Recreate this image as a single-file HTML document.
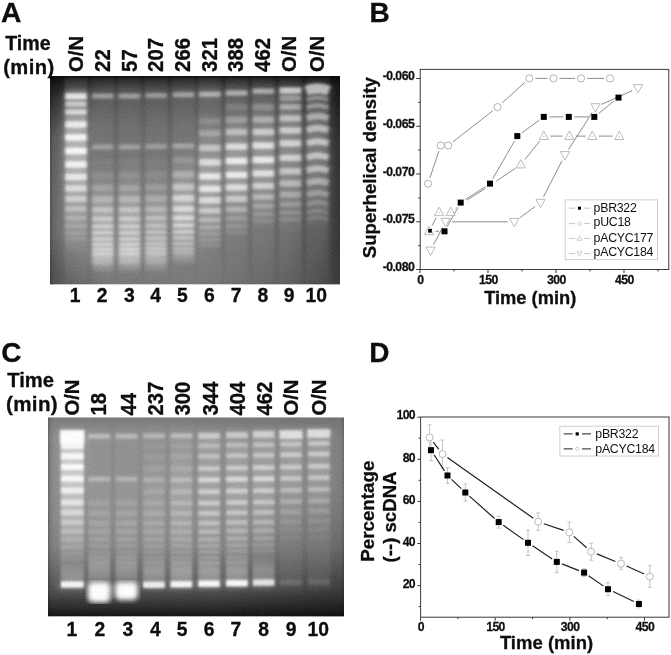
<!DOCTYPE html>
<html><head><meta charset="utf-8"><title>Figure</title>
<style>
html,body{margin:0;padding:0;background:#fff;}
svg{display:block;font-family:"Liberation Sans", Arial, sans-serif;}
</style></head><body>
<svg width="671" height="655" viewBox="0 0 671 655">
<defs>
<filter id="blur" x="-5%" y="-5%" width="110%" height="110%"><feGaussianBlur stdDeviation="1.35 1.25"/></filter>
<filter id="blur3" x="-5%" y="-5%" width="110%" height="110%"><feGaussianBlur stdDeviation="2.6 2.8"/></filter>
<filter id="bloom" x="-5%" y="-5%" width="110%" height="110%"><feGaussianBlur stdDeviation="4 2.5"/></filter>
<filter id="blurC" x="-5%" y="-5%" width="110%" height="110%"><feGaussianBlur stdDeviation="1.3 1.15"/></filter>
<filter id="blur2" x="-5%" y="-5%" width="110%" height="110%"><feGaussianBlur stdDeviation="1.3 1.1"/></filter>
<filter id="grain" x="0" y="0" width="100%" height="100%"><feTurbulence type="fractalNoise" baseFrequency="0.9" numOctaves="2" seed="7" result="n"/><feColorMatrix in="n" type="matrix" values="3 0 0 0 -1  3 0 0 0 -1  3 0 0 0 -1  0 0 0 0 1"/></filter>
<filter id="tblur"><feGaussianBlur stdDeviation="0.35"/></filter>
<linearGradient id="hazeA" x1="0" y1="0" x2="0" y2="1">
<stop offset="0" stop-color="#fff" stop-opacity="0.35"/><stop offset="0.06" stop-color="#fff" stop-opacity="1"/><stop offset="0.72" stop-color="#fff" stop-opacity="1"/><stop offset="1" stop-color="#fff" stop-opacity="0.2"/></linearGradient>
<linearGradient id="hazeC" x1="0" y1="0" x2="0" y2="1">
<stop offset="0" stop-color="#fff" stop-opacity="0"/><stop offset="0.05" stop-color="#fff" stop-opacity="1"/><stop offset="0.88" stop-color="#fff" stop-opacity="1"/><stop offset="1" stop-color="#fff" stop-opacity="0"/></linearGradient>
<linearGradient id="tailfade" x1="0" y1="0" x2="0" y2="1">
<stop offset="0" stop-color="#fff" stop-opacity="0"/><stop offset="0.45" stop-color="#fff" stop-opacity="1"/><stop offset="0.7" stop-color="#fff" stop-opacity="0.8"/><stop offset="1" stop-color="#fff" stop-opacity="0"/></linearGradient>
<linearGradient id="gA_v" x1="0" y1="0" x2="0" y2="1"><stop offset="0.000" stop-color="#080808"/><stop offset="0.010" stop-color="#121212"/><stop offset="0.019" stop-color="#1e1e1e"/><stop offset="0.043" stop-color="#2e2e2e"/><stop offset="0.067" stop-color="#3a3a3a"/><stop offset="0.115" stop-color="#4a4a4a"/><stop offset="0.187" stop-color="#575757"/><stop offset="0.259" stop-color="#606060"/><stop offset="0.403" stop-color="#676767"/><stop offset="0.503" stop-color="#6c6c6c"/><stop offset="0.666" stop-color="#707070"/><stop offset="0.810" stop-color="#737373"/><stop offset="1.000" stop-color="#767676"/></linearGradient>
<linearGradient id="gA_h" x1="0" y1="0" x2="1" y2="0">
<stop offset="0" stop-color="#000" stop-opacity="0.3"/><stop offset="0.012" stop-color="#000" stop-opacity="0.1"/><stop offset="0.035" stop-color="#000" stop-opacity="0.02"/><stop offset="0.06" stop-color="#000" stop-opacity="0"/><stop offset="0.5" stop-color="#000" stop-opacity="0"/><stop offset="0.8" stop-color="#000" stop-opacity="0.2"/><stop offset="0.95" stop-color="#000" stop-opacity="0.42"/><stop offset="1" stop-color="#000" stop-opacity="0.55"/></linearGradient>
<linearGradient id="gC_v" x1="0" y1="0" x2="0" y2="1"><stop offset="0.000" stop-color="#787878"/><stop offset="0.039" stop-color="#828282"/><stop offset="0.114" stop-color="#8a8a8a"/><stop offset="0.340" stop-color="#8a8a8a"/><stop offset="0.515" stop-color="#868686"/><stop offset="0.641" stop-color="#808080"/><stop offset="0.716" stop-color="#717171"/><stop offset="0.791" stop-color="#616161"/><stop offset="0.867" stop-color="#4f4f4f"/><stop offset="0.917" stop-color="#393939"/><stop offset="0.967" stop-color="#212121"/><stop offset="1.000" stop-color="#0e0e0e"/></linearGradient>
<linearGradient id="gC_h" x1="0" y1="0" x2="1" y2="0">
<stop offset="0" stop-color="#000" stop-opacity="0.3"/><stop offset="0.008" stop-color="#000" stop-opacity="0.08"/><stop offset="0.02" stop-color="#000" stop-opacity="0"/><stop offset="0.4" stop-color="#000" stop-opacity="0"/><stop offset="0.97" stop-color="#000" stop-opacity="0.08"/><stop offset="0.99" stop-color="#000" stop-opacity="0.1"/><stop offset="1" stop-color="#000" stop-opacity="0.25"/></linearGradient>
<radialGradient id="cornerC" gradientUnits="userSpaceOnUse" cx="350" cy="625" r="140"><stop offset="0" stop-color="#000" stop-opacity="0.34"/><stop offset="0.5" stop-color="#000" stop-opacity="0.13"/><stop offset="1" stop-color="#000" stop-opacity="0"/></radialGradient>
<radialGradient id="cornerA" gradientUnits="userSpaceOnUse" cx="46" cy="76" r="62"><stop offset="0" stop-color="#000" stop-opacity="0.65"/><stop offset="0.5" stop-color="#000" stop-opacity="0.3"/><stop offset="1" stop-color="#000" stop-opacity="0"/></radialGradient>
<radialGradient id="cornerA3" gradientUnits="userSpaceOnUse" cx="44" cy="292" r="62"><stop offset="0" stop-color="#000" stop-opacity="0.34"/><stop offset="0.5" stop-color="#000" stop-opacity="0.2"/><stop offset="1" stop-color="#000" stop-opacity="0"/></radialGradient>
<radialGradient id="cornerA2" gradientUnits="userSpaceOnUse" cx="340" cy="76" r="70"><stop offset="0" stop-color="#000" stop-opacity="0.35"/><stop offset="1" stop-color="#000" stop-opacity="0"/></radialGradient>
<clipPath id="clipA"><rect x="50" y="76.0" width="290" height="208.6"/></clipPath>
<clipPath id="clipC"><rect x="47.9" y="417.3" width="296.1" height="199.3"/></clipPath>
</defs>
<rect width="671" height="655" fill="#fff"/>

<g clip-path="url(#clipA)">
<rect x="50" y="76.0" width="290" height="208.6" fill="url(#gA_v)"/>
<rect x="50" y="76.0" width="290" height="208.6" fill="url(#gA_h)"/>
<rect x="50" y="76.0" width="290" height="208.6" fill="url(#cornerA)"/>
<rect x="50" y="76.0" width="290" height="208.6" fill="url(#cornerA2)"/>
<rect x="50" y="76.0" width="290" height="208.6" fill="url(#cornerA3)"/>
<g id="bA" filter="url(#blur)"><rect x="64.5" y="77" width="22.9" height="206" fill="url(#hazeA)" opacity="0.14"/><rect x="65.2" y="90.0" width="21.5" height="4.3" fill="#fff" opacity="0.11"/><rect x="65.2" y="94.0" width="21.5" height="4.3" fill="#fff" opacity="0.13"/><rect x="65.2" y="98.0" width="21.5" height="4.3" fill="#fff" opacity="0.14"/><rect x="65.2" y="102.0" width="21.5" height="4.3" fill="#fff" opacity="0.16"/><rect x="65.2" y="106.0" width="21.5" height="4.3" fill="#fff" opacity="0.17"/><rect x="65.2" y="110.0" width="21.5" height="4.3" fill="#fff" opacity="0.19"/><rect x="65.2" y="114.0" width="21.5" height="4.3" fill="#fff" opacity="0.20"/><rect x="65.2" y="118.0" width="21.5" height="4.3" fill="#fff" opacity="0.22"/><rect x="65.2" y="122.0" width="21.5" height="4.3" fill="#fff" opacity="0.23"/><rect x="65.2" y="126.0" width="21.5" height="4.3" fill="#fff" opacity="0.24"/><rect x="65.2" y="130.0" width="21.5" height="4.3" fill="#fff" opacity="0.25"/><rect x="65.2" y="134.0" width="21.5" height="4.3" fill="#fff" opacity="0.26"/><rect x="65.2" y="138.0" width="21.5" height="4.3" fill="#fff" opacity="0.27"/><rect x="65.2" y="142.0" width="21.5" height="4.3" fill="#fff" opacity="0.27"/><rect x="65.2" y="146.0" width="21.5" height="4.3" fill="#fff" opacity="0.27"/><rect x="65.2" y="150.0" width="21.5" height="4.3" fill="#fff" opacity="0.27"/><rect x="65.2" y="154.0" width="21.5" height="4.3" fill="#fff" opacity="0.27"/><rect x="65.2" y="158.0" width="21.5" height="4.3" fill="#fff" opacity="0.26"/><rect x="65.2" y="162.0" width="21.5" height="4.3" fill="#fff" opacity="0.25"/><rect x="65.2" y="166.0" width="21.5" height="4.3" fill="#fff" opacity="0.24"/><rect x="65.2" y="170.0" width="21.5" height="4.3" fill="#fff" opacity="0.23"/><rect x="65.2" y="174.0" width="21.5" height="4.3" fill="#fff" opacity="0.22"/><rect x="65.2" y="178.0" width="21.5" height="4.3" fill="#fff" opacity="0.20"/><rect x="65.2" y="182.0" width="21.5" height="4.3" fill="#fff" opacity="0.19"/><rect x="65.2" y="186.0" width="21.5" height="4.3" fill="#fff" opacity="0.17"/><rect x="65.2" y="190.0" width="21.5" height="4.3" fill="#fff" opacity="0.16"/><rect x="65.2" y="194.0" width="21.5" height="4.3" fill="#fff" opacity="0.14"/><rect x="65.2" y="198.0" width="21.5" height="4.3" fill="#fff" opacity="0.13"/><rect x="65.2" y="202.0" width="21.5" height="4.3" fill="#fff" opacity="0.11"/><rect x="65.2" y="206.0" width="21.5" height="4.3" fill="#fff" opacity="0.10"/><rect x="65.2" y="210.0" width="21.5" height="4.3" fill="#fff" opacity="0.08"/><rect x="65.2" y="214.0" width="21.5" height="4.3" fill="#fff" opacity="0.07"/><rect x="65.2" y="218.0" width="21.5" height="4.3" fill="#fff" opacity="0.06"/><rect x="65.2" y="222.0" width="21.5" height="4.3" fill="#fff" opacity="0.05"/><rect x="65.2" y="226.0" width="21.5" height="4.3" fill="#fff" opacity="0.04"/><rect x="65.2" y="230.0" width="21.5" height="4.3" fill="#fff" opacity="0.04"/><rect x="65.2" y="234.0" width="21.5" height="4.3" fill="#fff" opacity="0.03"/><rect x="65.2" y="238.0" width="21.5" height="4.3" fill="#fff" opacity="0.02"/><rect x="65.2" y="242.0" width="21.5" height="4.3" fill="#fff" opacity="0.02"/><rect x="65.2" y="246.0" width="21.5" height="4.3" fill="#fff" opacity="0.02"/><rect x="65.2" y="101.6" width="21.5" height="4.8" fill="#fff" opacity="0.52"/><rect x="65.2" y="109.6" width="21.5" height="4.8" fill="#fff" opacity="0.62"/><rect x="65.2" y="121.3" width="21.5" height="6.3" fill="#fff" opacity="0.77"/><rect x="65.2" y="134.3" width="21.5" height="6.3" fill="#fff" opacity="0.87"/><rect x="65.2" y="147.8" width="21.5" height="6.3" fill="#fff" opacity="0.90"/><rect x="65.2" y="161.3" width="21.5" height="6.3" fill="#fff" opacity="0.83"/><rect x="65.2" y="173.8" width="21.5" height="6.3" fill="#fff" opacity="0.71"/><rect x="65.2" y="185.3" width="21.5" height="6.3" fill="#fff" opacity="0.57"/><rect x="65.2" y="196.0" width="21.5" height="6.0" fill="#fff" opacity="0.43"/><rect x="65.2" y="206.3" width="21.5" height="5.4" fill="#fff" opacity="0.31"/><rect x="65.2" y="215.6" width="21.5" height="4.8" fill="#fff" opacity="0.22"/><rect x="65.2" y="223.9" width="21.5" height="4.2" fill="#fff" opacity="0.16"/><rect x="65.2" y="231.2" width="21.5" height="3.6" fill="#fff" opacity="0.12"/><rect x="65.2" y="237.2" width="21.5" height="3.6" fill="#fff" opacity="0.09"/><rect x="65.2" y="93.3" width="21.5" height="6.0" fill="#fff" opacity="0.75"/><rect x="91.2" y="77" width="22.9" height="206" fill="url(#hazeA)" opacity="0.07"/><rect x="92.0" y="160.0" width="21.5" height="4.3" fill="#fff" opacity="0.02"/><rect x="92.0" y="164.0" width="21.5" height="4.3" fill="#fff" opacity="0.02"/><rect x="92.0" y="168.0" width="21.5" height="4.3" fill="#fff" opacity="0.03"/><rect x="92.0" y="172.0" width="21.5" height="4.3" fill="#fff" opacity="0.04"/><rect x="92.0" y="176.0" width="21.5" height="4.3" fill="#fff" opacity="0.05"/><rect x="92.0" y="180.0" width="21.5" height="4.3" fill="#fff" opacity="0.06"/><rect x="92.0" y="184.0" width="21.5" height="4.3" fill="#fff" opacity="0.08"/><rect x="92.0" y="188.0" width="21.5" height="4.3" fill="#fff" opacity="0.09"/><rect x="92.0" y="192.0" width="21.5" height="4.3" fill="#fff" opacity="0.11"/><rect x="92.0" y="196.0" width="21.5" height="4.3" fill="#fff" opacity="0.13"/><rect x="92.0" y="200.0" width="21.5" height="4.3" fill="#fff" opacity="0.15"/><rect x="92.0" y="204.0" width="21.5" height="4.3" fill="#fff" opacity="0.17"/><rect x="92.0" y="208.0" width="21.5" height="4.3" fill="#fff" opacity="0.18"/><rect x="92.0" y="212.0" width="21.5" height="4.3" fill="#fff" opacity="0.20"/><rect x="92.0" y="216.0" width="21.5" height="4.3" fill="#fff" opacity="0.21"/><rect x="92.0" y="220.0" width="21.5" height="4.3" fill="#fff" opacity="0.22"/><rect x="92.0" y="224.0" width="21.5" height="4.3" fill="#fff" opacity="0.23"/><rect x="92.0" y="228.0" width="21.5" height="4.3" fill="#fff" opacity="0.23"/><rect x="92.0" y="232.0" width="21.5" height="4.3" fill="#fff" opacity="0.23"/><rect x="92.0" y="236.0" width="21.5" height="4.3" fill="#fff" opacity="0.22"/><rect x="92.0" y="240.0" width="21.5" height="4.3" fill="#fff" opacity="0.21"/><rect x="92.0" y="244.0" width="21.5" height="4.3" fill="#fff" opacity="0.20"/><rect x="92.0" y="248.0" width="21.5" height="4.3" fill="#fff" opacity="0.18"/><rect x="92.0" y="252.0" width="21.5" height="4.3" fill="#fff" opacity="0.17"/><rect x="92.0" y="256.0" width="21.5" height="4.3" fill="#fff" opacity="0.15"/><rect x="92.0" y="260.0" width="21.5" height="4.3" fill="#fff" opacity="0.13"/><rect x="92.0" y="158.2" width="21.5" height="6.3" fill="#fff" opacity="0.03"/><rect x="92.0" y="172.2" width="21.5" height="6.3" fill="#fff" opacity="0.08"/><rect x="92.0" y="184.7" width="21.5" height="6.3" fill="#fff" opacity="0.16"/><rect x="92.0" y="196.2" width="21.5" height="6.3" fill="#fff" opacity="0.25"/><rect x="92.0" y="207.1" width="21.5" height="5.4" fill="#fff" opacity="0.33"/><rect x="92.0" y="216.6" width="21.5" height="4.5" fill="#fff" opacity="0.39"/><rect x="92.0" y="224.4" width="21.5" height="3.9" fill="#fff" opacity="0.42"/><rect x="92.0" y="231.0" width="21.5" height="3.6" fill="#fff" opacity="0.42"/><rect x="92.0" y="237.2" width="21.5" height="3.3" fill="#fff" opacity="0.40"/><rect x="92.0" y="242.8" width="21.5" height="3.0" fill="#fff" opacity="0.37"/><rect x="92.0" y="248.0" width="21.5" height="2.7" fill="#fff" opacity="0.34"/><rect x="92.0" y="252.5" width="21.5" height="2.7" fill="#fff" opacity="0.31"/><rect x="92.0" y="93.5" width="21.5" height="5.0" fill="#fff" opacity="0.36"/><rect x="92.0" y="144.5" width="21.5" height="5.0" fill="#fff" opacity="0.26"/><rect x="92.0" y="236" width="21.5" height="38" fill="url(#tailfade)" opacity="0.30"/><rect x="118.0" y="77" width="22.9" height="206" fill="url(#hazeA)" opacity="0.07"/><rect x="118.7" y="160.0" width="21.5" height="4.3" fill="#fff" opacity="0.02"/><rect x="118.7" y="164.0" width="21.5" height="4.3" fill="#fff" opacity="0.03"/><rect x="118.7" y="168.0" width="21.5" height="4.3" fill="#fff" opacity="0.04"/><rect x="118.7" y="172.0" width="21.5" height="4.3" fill="#fff" opacity="0.05"/><rect x="118.7" y="176.0" width="21.5" height="4.3" fill="#fff" opacity="0.06"/><rect x="118.7" y="180.0" width="21.5" height="4.3" fill="#fff" opacity="0.07"/><rect x="118.7" y="184.0" width="21.5" height="4.3" fill="#fff" opacity="0.08"/><rect x="118.7" y="188.0" width="21.5" height="4.3" fill="#fff" opacity="0.10"/><rect x="118.7" y="192.0" width="21.5" height="4.3" fill="#fff" opacity="0.12"/><rect x="118.7" y="196.0" width="21.5" height="4.3" fill="#fff" opacity="0.14"/><rect x="118.7" y="200.0" width="21.5" height="4.3" fill="#fff" opacity="0.15"/><rect x="118.7" y="204.0" width="21.5" height="4.3" fill="#fff" opacity="0.17"/><rect x="118.7" y="208.0" width="21.5" height="4.3" fill="#fff" opacity="0.19"/><rect x="118.7" y="212.0" width="21.5" height="4.3" fill="#fff" opacity="0.20"/><rect x="118.7" y="216.0" width="21.5" height="4.3" fill="#fff" opacity="0.21"/><rect x="118.7" y="220.0" width="21.5" height="4.3" fill="#fff" opacity="0.22"/><rect x="118.7" y="224.0" width="21.5" height="4.3" fill="#fff" opacity="0.23"/><rect x="118.7" y="228.0" width="21.5" height="4.3" fill="#fff" opacity="0.23"/><rect x="118.7" y="232.0" width="21.5" height="4.3" fill="#fff" opacity="0.23"/><rect x="118.7" y="236.0" width="21.5" height="4.3" fill="#fff" opacity="0.22"/><rect x="118.7" y="240.0" width="21.5" height="4.3" fill="#fff" opacity="0.21"/><rect x="118.7" y="244.0" width="21.5" height="4.3" fill="#fff" opacity="0.20"/><rect x="118.7" y="248.0" width="21.5" height="4.3" fill="#fff" opacity="0.19"/><rect x="118.7" y="252.0" width="21.5" height="4.3" fill="#fff" opacity="0.17"/><rect x="118.7" y="256.0" width="21.5" height="4.3" fill="#fff" opacity="0.15"/><rect x="118.7" y="260.0" width="21.5" height="4.3" fill="#fff" opacity="0.14"/><rect x="118.7" y="158.2" width="21.5" height="6.3" fill="#fff" opacity="0.04"/><rect x="118.7" y="172.2" width="21.5" height="6.3" fill="#fff" opacity="0.09"/><rect x="118.7" y="184.7" width="21.5" height="6.3" fill="#fff" opacity="0.17"/><rect x="118.7" y="196.2" width="21.5" height="6.3" fill="#fff" opacity="0.26"/><rect x="118.7" y="207.1" width="21.5" height="5.4" fill="#fff" opacity="0.34"/><rect x="118.7" y="216.6" width="21.5" height="4.5" fill="#fff" opacity="0.39"/><rect x="118.7" y="224.4" width="21.5" height="3.9" fill="#fff" opacity="0.42"/><rect x="118.7" y="231.0" width="21.5" height="3.6" fill="#fff" opacity="0.42"/><rect x="118.7" y="237.2" width="21.5" height="3.3" fill="#fff" opacity="0.40"/><rect x="118.7" y="242.8" width="21.5" height="3.0" fill="#fff" opacity="0.38"/><rect x="118.7" y="248.0" width="21.5" height="2.7" fill="#fff" opacity="0.35"/><rect x="118.7" y="252.5" width="21.5" height="2.7" fill="#fff" opacity="0.31"/><rect x="118.7" y="93.5" width="21.5" height="5.0" fill="#fff" opacity="0.36"/><rect x="118.7" y="144.5" width="21.5" height="5.0" fill="#fff" opacity="0.26"/><rect x="118.7" y="236" width="21.5" height="38" fill="url(#tailfade)" opacity="0.30"/><rect x="144.7" y="77" width="22.9" height="206" fill="url(#hazeA)" opacity="0.07"/><rect x="145.3" y="160.0" width="21.5" height="4.3" fill="#fff" opacity="0.02"/><rect x="145.3" y="164.0" width="21.5" height="4.3" fill="#fff" opacity="0.02"/><rect x="145.3" y="168.0" width="21.5" height="4.3" fill="#fff" opacity="0.03"/><rect x="145.3" y="172.0" width="21.5" height="4.3" fill="#fff" opacity="0.04"/><rect x="145.3" y="176.0" width="21.5" height="4.3" fill="#fff" opacity="0.04"/><rect x="145.3" y="180.0" width="21.5" height="4.3" fill="#fff" opacity="0.05"/><rect x="145.3" y="184.0" width="21.5" height="4.3" fill="#fff" opacity="0.07"/><rect x="145.3" y="188.0" width="21.5" height="4.3" fill="#fff" opacity="0.08"/><rect x="145.3" y="192.0" width="21.5" height="4.3" fill="#fff" opacity="0.09"/><rect x="145.3" y="196.0" width="21.5" height="4.3" fill="#fff" opacity="0.11"/><rect x="145.3" y="200.0" width="21.5" height="4.3" fill="#fff" opacity="0.12"/><rect x="145.3" y="204.0" width="21.5" height="4.3" fill="#fff" opacity="0.13"/><rect x="145.3" y="208.0" width="21.5" height="4.3" fill="#fff" opacity="0.15"/><rect x="145.3" y="212.0" width="21.5" height="4.3" fill="#fff" opacity="0.16"/><rect x="145.3" y="216.0" width="21.5" height="4.3" fill="#fff" opacity="0.17"/><rect x="145.3" y="220.0" width="21.5" height="4.3" fill="#fff" opacity="0.18"/><rect x="145.3" y="224.0" width="21.5" height="4.3" fill="#fff" opacity="0.18"/><rect x="145.3" y="228.0" width="21.5" height="4.3" fill="#fff" opacity="0.18"/><rect x="145.3" y="232.0" width="21.5" height="4.3" fill="#fff" opacity="0.18"/><rect x="145.3" y="236.0" width="21.5" height="4.3" fill="#fff" opacity="0.18"/><rect x="145.3" y="240.0" width="21.5" height="4.3" fill="#fff" opacity="0.17"/><rect x="145.3" y="244.0" width="21.5" height="4.3" fill="#fff" opacity="0.16"/><rect x="145.3" y="248.0" width="21.5" height="4.3" fill="#fff" opacity="0.15"/><rect x="145.3" y="252.0" width="21.5" height="4.3" fill="#fff" opacity="0.13"/><rect x="145.3" y="256.0" width="21.5" height="4.3" fill="#fff" opacity="0.12"/><rect x="145.3" y="260.0" width="21.5" height="4.3" fill="#fff" opacity="0.11"/><rect x="145.3" y="157.5" width="21.5" height="6.3" fill="#fff" opacity="0.03"/><rect x="145.3" y="171.5" width="21.5" height="6.3" fill="#fff" opacity="0.07"/><rect x="145.3" y="184.0" width="21.5" height="6.3" fill="#fff" opacity="0.13"/><rect x="145.3" y="195.5" width="21.5" height="6.3" fill="#fff" opacity="0.20"/><rect x="145.3" y="206.5" width="21.5" height="5.4" fill="#fff" opacity="0.26"/><rect x="145.3" y="215.9" width="21.5" height="4.5" fill="#fff" opacity="0.31"/><rect x="145.3" y="223.8" width="21.5" height="3.9" fill="#fff" opacity="0.33"/><rect x="145.3" y="230.4" width="21.5" height="3.6" fill="#fff" opacity="0.33"/><rect x="145.3" y="236.5" width="21.5" height="3.3" fill="#fff" opacity="0.32"/><rect x="145.3" y="242.2" width="21.5" height="3.0" fill="#fff" opacity="0.30"/><rect x="145.3" y="247.3" width="21.5" height="2.7" fill="#fff" opacity="0.28"/><rect x="145.3" y="251.8" width="21.5" height="2.7" fill="#fff" opacity="0.25"/><rect x="145.3" y="92.9" width="21.5" height="5.0" fill="#fff" opacity="0.33"/><rect x="145.3" y="143.9" width="21.5" height="5.0" fill="#fff" opacity="0.25"/><rect x="145.3" y="236" width="21.5" height="38" fill="url(#tailfade)" opacity="0.24"/><rect x="172.0" y="77" width="22.9" height="206" fill="url(#hazeA)" opacity="0.08"/><rect x="172.7" y="150.0" width="21.5" height="4.3" fill="#fff" opacity="0.03"/><rect x="172.7" y="154.0" width="21.5" height="4.3" fill="#fff" opacity="0.04"/><rect x="172.7" y="158.0" width="21.5" height="4.3" fill="#fff" opacity="0.05"/><rect x="172.7" y="162.0" width="21.5" height="4.3" fill="#fff" opacity="0.06"/><rect x="172.7" y="166.0" width="21.5" height="4.3" fill="#fff" opacity="0.08"/><rect x="172.7" y="170.0" width="21.5" height="4.3" fill="#fff" opacity="0.09"/><rect x="172.7" y="174.0" width="21.5" height="4.3" fill="#fff" opacity="0.11"/><rect x="172.7" y="178.0" width="21.5" height="4.3" fill="#fff" opacity="0.12"/><rect x="172.7" y="182.0" width="21.5" height="4.3" fill="#fff" opacity="0.14"/><rect x="172.7" y="186.0" width="21.5" height="4.3" fill="#fff" opacity="0.16"/><rect x="172.7" y="190.0" width="21.5" height="4.3" fill="#fff" opacity="0.18"/><rect x="172.7" y="194.0" width="21.5" height="4.3" fill="#fff" opacity="0.19"/><rect x="172.7" y="198.0" width="21.5" height="4.3" fill="#fff" opacity="0.20"/><rect x="172.7" y="202.0" width="21.5" height="4.3" fill="#fff" opacity="0.21"/><rect x="172.7" y="206.0" width="21.5" height="4.3" fill="#fff" opacity="0.22"/><rect x="172.7" y="210.0" width="21.5" height="4.3" fill="#fff" opacity="0.22"/><rect x="172.7" y="214.0" width="21.5" height="4.3" fill="#fff" opacity="0.22"/><rect x="172.7" y="218.0" width="21.5" height="4.3" fill="#fff" opacity="0.21"/><rect x="172.7" y="222.0" width="21.5" height="4.3" fill="#fff" opacity="0.20"/><rect x="172.7" y="226.0" width="21.5" height="4.3" fill="#fff" opacity="0.19"/><rect x="172.7" y="230.0" width="21.5" height="4.3" fill="#fff" opacity="0.18"/><rect x="172.7" y="234.0" width="21.5" height="4.3" fill="#fff" opacity="0.16"/><rect x="172.7" y="238.0" width="21.5" height="4.3" fill="#fff" opacity="0.14"/><rect x="172.7" y="242.0" width="21.5" height="4.3" fill="#fff" opacity="0.12"/><rect x="172.7" y="246.0" width="21.5" height="4.3" fill="#fff" opacity="0.11"/><rect x="172.7" y="250.0" width="21.5" height="4.3" fill="#fff" opacity="0.09"/><rect x="172.7" y="254.0" width="21.5" height="4.3" fill="#fff" opacity="0.08"/><rect x="172.7" y="258.0" width="21.5" height="4.3" fill="#fff" opacity="0.06"/><rect x="172.7" y="157.2" width="21.5" height="6.3" fill="#fff" opacity="0.13"/><rect x="172.7" y="171.2" width="21.5" height="6.3" fill="#fff" opacity="0.25"/><rect x="172.7" y="183.8" width="21.5" height="6.3" fill="#fff" opacity="0.39"/><rect x="172.7" y="195.2" width="21.5" height="6.3" fill="#fff" opacity="0.50"/><rect x="172.7" y="206.2" width="21.5" height="5.4" fill="#fff" opacity="0.55"/><rect x="172.7" y="215.7" width="21.5" height="4.5" fill="#fff" opacity="0.54"/><rect x="172.7" y="223.5" width="21.5" height="3.9" fill="#fff" opacity="0.50"/><rect x="172.7" y="230.1" width="21.5" height="3.6" fill="#fff" opacity="0.44"/><rect x="172.7" y="236.2" width="21.5" height="3.3" fill="#fff" opacity="0.38"/><rect x="172.7" y="241.9" width="21.5" height="3.0" fill="#fff" opacity="0.32"/><rect x="172.7" y="247.1" width="21.5" height="2.7" fill="#fff" opacity="0.26"/><rect x="172.7" y="251.6" width="21.5" height="2.7" fill="#fff" opacity="0.22"/><rect x="172.7" y="92.2" width="21.5" height="5.0" fill="#fff" opacity="0.38"/><rect x="172.7" y="143.5" width="21.5" height="5.0" fill="#fff" opacity="0.30"/><rect x="172.7" y="240" width="21.5" height="26" fill="url(#tailfade)" opacity="0.12"/><rect x="198.4" y="77" width="22.9" height="206" fill="url(#hazeA)" opacity="0.11"/><rect x="199.1" y="114.0" width="21.5" height="4.3" fill="#fff" opacity="0.02"/><rect x="199.1" y="118.0" width="21.5" height="4.3" fill="#fff" opacity="0.03"/><rect x="199.1" y="122.0" width="21.5" height="4.3" fill="#fff" opacity="0.03"/><rect x="199.1" y="126.0" width="21.5" height="4.3" fill="#fff" opacity="0.04"/><rect x="199.1" y="130.0" width="21.5" height="4.3" fill="#fff" opacity="0.05"/><rect x="199.1" y="134.0" width="21.5" height="4.3" fill="#fff" opacity="0.06"/><rect x="199.1" y="138.0" width="21.5" height="4.3" fill="#fff" opacity="0.07"/><rect x="199.1" y="142.0" width="21.5" height="4.3" fill="#fff" opacity="0.08"/><rect x="199.1" y="146.0" width="21.5" height="4.3" fill="#fff" opacity="0.10"/><rect x="199.1" y="150.0" width="21.5" height="4.3" fill="#fff" opacity="0.11"/><rect x="199.1" y="154.0" width="21.5" height="4.3" fill="#fff" opacity="0.12"/><rect x="199.1" y="158.0" width="21.5" height="4.3" fill="#fff" opacity="0.13"/><rect x="199.1" y="162.0" width="21.5" height="4.3" fill="#fff" opacity="0.14"/><rect x="199.1" y="166.0" width="21.5" height="4.3" fill="#fff" opacity="0.15"/><rect x="199.1" y="170.0" width="21.5" height="4.3" fill="#fff" opacity="0.16"/><rect x="199.1" y="174.0" width="21.5" height="4.3" fill="#fff" opacity="0.16"/><rect x="199.1" y="178.0" width="21.5" height="4.3" fill="#fff" opacity="0.16"/><rect x="199.1" y="182.0" width="21.5" height="4.3" fill="#fff" opacity="0.16"/><rect x="199.1" y="186.0" width="21.5" height="4.3" fill="#fff" opacity="0.16"/><rect x="199.1" y="190.0" width="21.5" height="4.3" fill="#fff" opacity="0.15"/><rect x="199.1" y="194.0" width="21.5" height="4.3" fill="#fff" opacity="0.14"/><rect x="199.1" y="198.0" width="21.5" height="4.3" fill="#fff" opacity="0.13"/><rect x="199.1" y="202.0" width="21.5" height="4.3" fill="#fff" opacity="0.12"/><rect x="199.1" y="206.0" width="21.5" height="4.3" fill="#fff" opacity="0.11"/><rect x="199.1" y="210.0" width="21.5" height="4.3" fill="#fff" opacity="0.10"/><rect x="199.1" y="214.0" width="21.5" height="4.3" fill="#fff" opacity="0.08"/><rect x="199.1" y="218.0" width="21.5" height="4.3" fill="#fff" opacity="0.07"/><rect x="199.1" y="222.0" width="21.5" height="4.3" fill="#fff" opacity="0.06"/><rect x="199.1" y="226.0" width="21.5" height="4.3" fill="#fff" opacity="0.05"/><rect x="199.1" y="230.0" width="21.5" height="4.3" fill="#fff" opacity="0.04"/><rect x="199.1" y="234.0" width="21.5" height="4.3" fill="#fff" opacity="0.03"/><rect x="199.1" y="238.0" width="21.5" height="4.3" fill="#fff" opacity="0.03"/><rect x="199.1" y="242.0" width="21.5" height="4.3" fill="#fff" opacity="0.02"/><rect x="199.1" y="118.1" width="21.5" height="6.3" fill="#fff" opacity="0.12"/><rect x="199.1" y="130.2" width="21.5" height="6.3" fill="#fff" opacity="0.24"/><rect x="199.1" y="144.8" width="21.5" height="6.3" fill="#fff" opacity="0.43"/><rect x="199.1" y="159.2" width="21.5" height="6.3" fill="#fff" opacity="0.63"/><rect x="199.1" y="173.2" width="21.5" height="6.3" fill="#fff" opacity="0.73"/><rect x="199.1" y="185.7" width="21.5" height="6.3" fill="#fff" opacity="0.71"/><rect x="199.1" y="197.2" width="21.5" height="6.3" fill="#fff" opacity="0.60"/><rect x="199.1" y="208.1" width="21.5" height="5.4" fill="#fff" opacity="0.45"/><rect x="199.1" y="217.6" width="21.5" height="4.5" fill="#fff" opacity="0.32"/><rect x="199.1" y="225.4" width="21.5" height="3.9" fill="#fff" opacity="0.23"/><rect x="199.1" y="232.0" width="21.5" height="3.6" fill="#fff" opacity="0.16"/><rect x="199.1" y="238.2" width="21.5" height="3.3" fill="#fff" opacity="0.12"/><rect x="199.1" y="243.7" width="21.5" height="3.3" fill="#fff" opacity="0.08"/><rect x="199.1" y="91.7" width="21.5" height="5.0" fill="#fff" opacity="0.45"/><rect x="225.2" y="77" width="22.9" height="206" fill="url(#hazeA)" opacity="0.11"/><rect x="225.8" y="100.0" width="21.5" height="4.3" fill="#fff" opacity="0.02"/><rect x="225.8" y="104.0" width="21.5" height="4.3" fill="#fff" opacity="0.02"/><rect x="225.8" y="108.0" width="21.5" height="4.3" fill="#fff" opacity="0.03"/><rect x="225.8" y="112.0" width="21.5" height="4.3" fill="#fff" opacity="0.04"/><rect x="225.8" y="116.0" width="21.5" height="4.3" fill="#fff" opacity="0.05"/><rect x="225.8" y="120.0" width="21.5" height="4.3" fill="#fff" opacity="0.06"/><rect x="225.8" y="124.0" width="21.5" height="4.3" fill="#fff" opacity="0.07"/><rect x="225.8" y="128.0" width="21.5" height="4.3" fill="#fff" opacity="0.08"/><rect x="225.8" y="132.0" width="21.5" height="4.3" fill="#fff" opacity="0.10"/><rect x="225.8" y="136.0" width="21.5" height="4.3" fill="#fff" opacity="0.11"/><rect x="225.8" y="140.0" width="21.5" height="4.3" fill="#fff" opacity="0.12"/><rect x="225.8" y="144.0" width="21.5" height="4.3" fill="#fff" opacity="0.14"/><rect x="225.8" y="148.0" width="21.5" height="4.3" fill="#fff" opacity="0.15"/><rect x="225.8" y="152.0" width="21.5" height="4.3" fill="#fff" opacity="0.16"/><rect x="225.8" y="156.0" width="21.5" height="4.3" fill="#fff" opacity="0.17"/><rect x="225.8" y="160.0" width="21.5" height="4.3" fill="#fff" opacity="0.17"/><rect x="225.8" y="164.0" width="21.5" height="4.3" fill="#fff" opacity="0.18"/><rect x="225.8" y="168.0" width="21.5" height="4.3" fill="#fff" opacity="0.18"/><rect x="225.8" y="172.0" width="21.5" height="4.3" fill="#fff" opacity="0.17"/><rect x="225.8" y="176.0" width="21.5" height="4.3" fill="#fff" opacity="0.16"/><rect x="225.8" y="180.0" width="21.5" height="4.3" fill="#fff" opacity="0.16"/><rect x="225.8" y="184.0" width="21.5" height="4.3" fill="#fff" opacity="0.14"/><rect x="225.8" y="188.0" width="21.5" height="4.3" fill="#fff" opacity="0.13"/><rect x="225.8" y="192.0" width="21.5" height="4.3" fill="#fff" opacity="0.12"/><rect x="225.8" y="196.0" width="21.5" height="4.3" fill="#fff" opacity="0.10"/><rect x="225.8" y="200.0" width="21.5" height="4.3" fill="#fff" opacity="0.09"/><rect x="225.8" y="204.0" width="21.5" height="4.3" fill="#fff" opacity="0.08"/><rect x="225.8" y="208.0" width="21.5" height="4.3" fill="#fff" opacity="0.06"/><rect x="225.8" y="212.0" width="21.5" height="4.3" fill="#fff" opacity="0.05"/><rect x="225.8" y="216.0" width="21.5" height="4.3" fill="#fff" opacity="0.04"/><rect x="225.8" y="220.0" width="21.5" height="4.3" fill="#fff" opacity="0.03"/><rect x="225.8" y="224.0" width="21.5" height="4.3" fill="#fff" opacity="0.03"/><rect x="225.8" y="228.0" width="21.5" height="4.3" fill="#fff" opacity="0.02"/><rect x="225.8" y="103.8" width="21.5" height="6.3" fill="#fff" opacity="0.11"/><rect x="225.8" y="116.8" width="21.5" height="6.3" fill="#fff" opacity="0.23"/><rect x="225.8" y="128.8" width="21.5" height="6.3" fill="#fff" opacity="0.41"/><rect x="225.8" y="143.5" width="21.5" height="6.3" fill="#fff" opacity="0.64"/><rect x="225.8" y="157.8" width="21.5" height="6.3" fill="#fff" opacity="0.78"/><rect x="225.8" y="171.8" width="21.5" height="6.3" fill="#fff" opacity="0.77"/><rect x="225.8" y="184.3" width="21.5" height="6.3" fill="#fff" opacity="0.63"/><rect x="225.8" y="195.8" width="21.5" height="6.3" fill="#fff" opacity="0.45"/><rect x="225.8" y="206.8" width="21.5" height="5.4" fill="#fff" opacity="0.29"/><rect x="225.8" y="216.2" width="21.5" height="4.5" fill="#fff" opacity="0.18"/><rect x="225.8" y="224.1" width="21.5" height="3.9" fill="#fff" opacity="0.12"/><rect x="225.8" y="230.6" width="21.5" height="3.9" fill="#fff" opacity="0.07"/><rect x="225.8" y="90.5" width="21.5" height="5.0" fill="#fff" opacity="0.45"/><rect x="251.9" y="77" width="22.9" height="206" fill="url(#hazeA)" opacity="0.11"/><rect x="252.6" y="95.0" width="21.5" height="4.3" fill="#fff" opacity="0.02"/><rect x="252.6" y="99.0" width="21.5" height="4.3" fill="#fff" opacity="0.03"/><rect x="252.6" y="103.0" width="21.5" height="4.3" fill="#fff" opacity="0.04"/><rect x="252.6" y="107.0" width="21.5" height="4.3" fill="#fff" opacity="0.05"/><rect x="252.6" y="111.0" width="21.5" height="4.3" fill="#fff" opacity="0.06"/><rect x="252.6" y="115.0" width="21.5" height="4.3" fill="#fff" opacity="0.07"/><rect x="252.6" y="119.0" width="21.5" height="4.3" fill="#fff" opacity="0.08"/><rect x="252.6" y="123.0" width="21.5" height="4.3" fill="#fff" opacity="0.09"/><rect x="252.6" y="127.0" width="21.5" height="4.3" fill="#fff" opacity="0.10"/><rect x="252.6" y="131.0" width="21.5" height="4.3" fill="#fff" opacity="0.12"/><rect x="252.6" y="135.0" width="21.5" height="4.3" fill="#fff" opacity="0.13"/><rect x="252.6" y="139.0" width="21.5" height="4.3" fill="#fff" opacity="0.14"/><rect x="252.6" y="143.0" width="21.5" height="4.3" fill="#fff" opacity="0.15"/><rect x="252.6" y="147.0" width="21.5" height="4.3" fill="#fff" opacity="0.16"/><rect x="252.6" y="151.0" width="21.5" height="4.3" fill="#fff" opacity="0.16"/><rect x="252.6" y="155.0" width="21.5" height="4.3" fill="#fff" opacity="0.17"/><rect x="252.6" y="159.0" width="21.5" height="4.3" fill="#fff" opacity="0.17"/><rect x="252.6" y="163.0" width="21.5" height="4.3" fill="#fff" opacity="0.16"/><rect x="252.6" y="167.0" width="21.5" height="4.3" fill="#fff" opacity="0.16"/><rect x="252.6" y="171.0" width="21.5" height="4.3" fill="#fff" opacity="0.15"/><rect x="252.6" y="175.0" width="21.5" height="4.3" fill="#fff" opacity="0.14"/><rect x="252.6" y="179.0" width="21.5" height="4.3" fill="#fff" opacity="0.13"/><rect x="252.6" y="183.0" width="21.5" height="4.3" fill="#fff" opacity="0.12"/><rect x="252.6" y="187.0" width="21.5" height="4.3" fill="#fff" opacity="0.10"/><rect x="252.6" y="191.0" width="21.5" height="4.3" fill="#fff" opacity="0.09"/><rect x="252.6" y="195.0" width="21.5" height="4.3" fill="#fff" opacity="0.08"/><rect x="252.6" y="199.0" width="21.5" height="4.3" fill="#fff" opacity="0.07"/><rect x="252.6" y="203.0" width="21.5" height="4.3" fill="#fff" opacity="0.06"/><rect x="252.6" y="207.0" width="21.5" height="4.3" fill="#fff" opacity="0.05"/><rect x="252.6" y="211.0" width="21.5" height="4.3" fill="#fff" opacity="0.04"/><rect x="252.6" y="215.0" width="21.5" height="4.3" fill="#fff" opacity="0.03"/><rect x="252.6" y="219.0" width="21.5" height="4.3" fill="#fff" opacity="0.02"/><rect x="252.6" y="223.0" width="21.5" height="4.3" fill="#fff" opacity="0.02"/><rect x="252.6" y="103.8" width="21.5" height="6.3" fill="#fff" opacity="0.19"/><rect x="252.6" y="116.5" width="21.5" height="6.3" fill="#fff" opacity="0.34"/><rect x="252.6" y="128.8" width="21.5" height="6.3" fill="#fff" opacity="0.52"/><rect x="252.6" y="142.4" width="21.5" height="6.3" fill="#fff" opacity="0.69"/><rect x="252.6" y="156.8" width="21.5" height="6.3" fill="#fff" opacity="0.76"/><rect x="252.6" y="170.3" width="21.5" height="6.3" fill="#fff" opacity="0.68"/><rect x="252.6" y="182.8" width="21.5" height="6.3" fill="#fff" opacity="0.52"/><rect x="252.6" y="194.3" width="21.5" height="5.4" fill="#fff" opacity="0.36"/><rect x="252.6" y="203.6" width="21.5" height="4.8" fill="#fff" opacity="0.24"/><rect x="252.6" y="211.9" width="21.5" height="4.2" fill="#fff" opacity="0.16"/><rect x="252.6" y="218.9" width="21.5" height="4.2" fill="#fff" opacity="0.10"/><rect x="252.6" y="88.7" width="21.5" height="5.0" fill="#fff" opacity="0.45"/><rect x="278.9" y="77" width="22.9" height="206" fill="url(#hazeA)" opacity="0.11"/><rect x="279.6" y="88.0" width="21.5" height="4.3" fill="#fff" opacity="0.05"/><rect x="279.6" y="92.0" width="21.5" height="4.3" fill="#fff" opacity="0.06"/><rect x="279.6" y="96.0" width="21.5" height="4.3" fill="#fff" opacity="0.07"/><rect x="279.6" y="100.0" width="21.5" height="4.3" fill="#fff" opacity="0.07"/><rect x="279.6" y="104.0" width="21.5" height="4.3" fill="#fff" opacity="0.08"/><rect x="279.6" y="108.0" width="21.5" height="4.3" fill="#fff" opacity="0.09"/><rect x="279.6" y="112.0" width="21.5" height="4.3" fill="#fff" opacity="0.10"/><rect x="279.6" y="116.0" width="21.5" height="4.3" fill="#fff" opacity="0.10"/><rect x="279.6" y="120.0" width="21.5" height="4.3" fill="#fff" opacity="0.11"/><rect x="279.6" y="124.0" width="21.5" height="4.3" fill="#fff" opacity="0.11"/><rect x="279.6" y="128.0" width="21.5" height="4.3" fill="#fff" opacity="0.12"/><rect x="279.6" y="132.0" width="21.5" height="4.3" fill="#fff" opacity="0.12"/><rect x="279.6" y="136.0" width="21.5" height="4.3" fill="#fff" opacity="0.13"/><rect x="279.6" y="140.0" width="21.5" height="4.3" fill="#fff" opacity="0.13"/><rect x="279.6" y="144.0" width="21.5" height="4.3" fill="#fff" opacity="0.13"/><rect x="279.6" y="148.0" width="21.5" height="4.3" fill="#fff" opacity="0.13"/><rect x="279.6" y="152.0" width="21.5" height="4.3" fill="#fff" opacity="0.13"/><rect x="279.6" y="156.0" width="21.5" height="4.3" fill="#fff" opacity="0.12"/><rect x="279.6" y="160.0" width="21.5" height="4.3" fill="#fff" opacity="0.12"/><rect x="279.6" y="164.0" width="21.5" height="4.3" fill="#fff" opacity="0.11"/><rect x="279.6" y="168.0" width="21.5" height="4.3" fill="#fff" opacity="0.11"/><rect x="279.6" y="172.0" width="21.5" height="4.3" fill="#fff" opacity="0.10"/><rect x="279.6" y="176.0" width="21.5" height="4.3" fill="#fff" opacity="0.10"/><rect x="279.6" y="180.0" width="21.5" height="4.3" fill="#fff" opacity="0.09"/><rect x="279.6" y="184.0" width="21.5" height="4.3" fill="#fff" opacity="0.08"/><rect x="279.6" y="188.0" width="21.5" height="4.3" fill="#fff" opacity="0.07"/><rect x="279.6" y="192.0" width="21.5" height="4.3" fill="#fff" opacity="0.07"/><rect x="279.6" y="196.0" width="21.5" height="4.3" fill="#fff" opacity="0.06"/><rect x="279.6" y="200.0" width="21.5" height="4.3" fill="#fff" opacity="0.05"/><rect x="279.6" y="204.0" width="21.5" height="4.3" fill="#fff" opacity="0.05"/><rect x="279.6" y="208.0" width="21.5" height="4.3" fill="#fff" opacity="0.04"/><rect x="279.6" y="212.0" width="21.5" height="4.3" fill="#fff" opacity="0.03"/><rect x="279.6" y="216.0" width="21.5" height="4.3" fill="#fff" opacity="0.03"/><rect x="279.6" y="220.0" width="21.5" height="4.3" fill="#fff" opacity="0.02"/><rect x="279.6" y="224.0" width="21.5" height="4.3" fill="#fff" opacity="0.02"/><rect x="279.6" y="228.0" width="21.5" height="4.3" fill="#fff" opacity="0.02"/><rect x="279.6" y="95.4" width="21.5" height="5.3" fill="#fff" opacity="0.30"/><rect x="279.6" y="104.2" width="21.5" height="5.3" fill="#fff" opacity="0.38"/><rect x="279.6" y="115.2" width="21.5" height="6.3" fill="#fff" opacity="0.47"/><rect x="279.6" y="127.3" width="21.5" height="6.3" fill="#fff" opacity="0.54"/><rect x="279.6" y="140.2" width="21.5" height="6.3" fill="#fff" opacity="0.58"/><rect x="279.6" y="154.7" width="21.5" height="6.3" fill="#fff" opacity="0.56"/><rect x="279.6" y="168.2" width="21.5" height="6.3" fill="#fff" opacity="0.48"/><rect x="279.6" y="180.3" width="21.5" height="6.3" fill="#fff" opacity="0.39"/><rect x="279.6" y="191.6" width="21.5" height="5.8" fill="#fff" opacity="0.30"/><rect x="279.6" y="201.7" width="21.5" height="5.0" fill="#fff" opacity="0.22"/><rect x="279.6" y="210.4" width="21.5" height="4.2" fill="#fff" opacity="0.17"/><rect x="279.6" y="217.4" width="21.5" height="4.2" fill="#fff" opacity="0.13"/><rect x="279.6" y="87.5" width="21.5" height="6.0" fill="#fff" opacity="0.62"/><rect x="306.2" y="77" width="22.9" height="206" fill="url(#hazeA)" opacity="0.10"/><rect x="306.9" y="86.0" width="21.5" height="4.3" fill="#fff" opacity="0.04"/><rect x="306.9" y="90.0" width="21.5" height="4.3" fill="#fff" opacity="0.05"/><rect x="306.9" y="94.0" width="21.5" height="4.3" fill="#fff" opacity="0.06"/><rect x="306.9" y="98.0" width="21.5" height="4.3" fill="#fff" opacity="0.06"/><rect x="306.9" y="102.0" width="21.5" height="4.3" fill="#fff" opacity="0.07"/><rect x="306.9" y="106.0" width="21.5" height="4.3" fill="#fff" opacity="0.08"/><rect x="306.9" y="110.0" width="21.5" height="4.3" fill="#fff" opacity="0.08"/><rect x="306.9" y="114.0" width="21.5" height="4.3" fill="#fff" opacity="0.09"/><rect x="306.9" y="118.0" width="21.5" height="4.3" fill="#fff" opacity="0.09"/><rect x="306.9" y="122.0" width="21.5" height="4.3" fill="#fff" opacity="0.10"/><rect x="306.9" y="126.0" width="21.5" height="4.3" fill="#fff" opacity="0.10"/><rect x="306.9" y="130.0" width="21.5" height="4.3" fill="#fff" opacity="0.11"/><rect x="306.9" y="134.0" width="21.5" height="4.3" fill="#fff" opacity="0.11"/><rect x="306.9" y="138.0" width="21.5" height="4.3" fill="#fff" opacity="0.11"/><rect x="306.9" y="142.0" width="21.5" height="4.3" fill="#fff" opacity="0.11"/><rect x="306.9" y="146.0" width="21.5" height="4.3" fill="#fff" opacity="0.11"/><rect x="306.9" y="150.0" width="21.5" height="4.3" fill="#fff" opacity="0.11"/><rect x="306.9" y="154.0" width="21.5" height="4.3" fill="#fff" opacity="0.11"/><rect x="306.9" y="158.0" width="21.5" height="4.3" fill="#fff" opacity="0.11"/><rect x="306.9" y="162.0" width="21.5" height="4.3" fill="#fff" opacity="0.10"/><rect x="306.9" y="166.0" width="21.5" height="4.3" fill="#fff" opacity="0.10"/><rect x="306.9" y="170.0" width="21.5" height="4.3" fill="#fff" opacity="0.09"/><rect x="306.9" y="174.0" width="21.5" height="4.3" fill="#fff" opacity="0.09"/><rect x="306.9" y="178.0" width="21.5" height="4.3" fill="#fff" opacity="0.08"/><rect x="306.9" y="182.0" width="21.5" height="4.3" fill="#fff" opacity="0.08"/><rect x="306.9" y="186.0" width="21.5" height="4.3" fill="#fff" opacity="0.07"/><rect x="306.9" y="190.0" width="21.5" height="4.3" fill="#fff" opacity="0.06"/><rect x="306.9" y="194.0" width="21.5" height="4.3" fill="#fff" opacity="0.06"/><rect x="306.9" y="198.0" width="21.5" height="4.3" fill="#fff" opacity="0.05"/><rect x="306.9" y="202.0" width="21.5" height="4.3" fill="#fff" opacity="0.04"/><rect x="306.9" y="206.0" width="21.5" height="4.3" fill="#fff" opacity="0.04"/><rect x="306.9" y="210.0" width="21.5" height="4.3" fill="#fff" opacity="0.03"/><rect x="306.9" y="214.0" width="21.5" height="4.3" fill="#fff" opacity="0.03"/><rect x="306.9" y="218.0" width="21.5" height="4.3" fill="#fff" opacity="0.02"/><rect x="306.9" y="222.0" width="21.5" height="4.3" fill="#fff" opacity="0.02"/><path d="M306.9,99.9 Q317.6,95.1 328.4,99.9" stroke="#fff" stroke-width="4.6" fill="none" opacity="0.27"/><path d="M306.9,107.6 Q317.6,102.8 328.4,107.6" stroke="#fff" stroke-width="4.6" fill="none" opacity="0.32"/><path d="M306.9,118.4 Q317.6,113.6 328.4,118.4" stroke="#fff" stroke-width="6.3" fill="none" opacity="0.40"/><path d="M306.9,130.4 Q317.6,125.6 328.4,130.4" stroke="#fff" stroke-width="6.3" fill="none" opacity="0.47"/><path d="M306.9,143.7 Q317.6,138.9 328.4,143.7" stroke="#fff" stroke-width="6.3" fill="none" opacity="0.52"/><path d="M306.9,157.7 Q317.6,152.9 328.4,157.7" stroke="#fff" stroke-width="6.3" fill="none" opacity="0.51"/><path d="M306.9,170.7 Q317.6,165.9 328.4,170.7" stroke="#fff" stroke-width="6.3" fill="none" opacity="0.45"/><path d="M306.9,183.4 Q317.6,178.6 328.4,183.4" stroke="#fff" stroke-width="6.3" fill="none" opacity="0.37"/><path d="M306.9,195.0 Q317.6,190.2 328.4,195.0" stroke="#fff" stroke-width="5.8" fill="none" opacity="0.28"/><path d="M306.9,204.7 Q317.6,199.9 328.4,204.7" stroke="#fff" stroke-width="5.0" fill="none" opacity="0.21"/><path d="M306.9,213.0 Q317.6,208.2 328.4,213.0" stroke="#fff" stroke-width="4.1" fill="none" opacity="0.16"/><path d="M306.9,219.9 Q317.6,215.1 328.4,219.9" stroke="#fff" stroke-width="4.1" fill="none" opacity="0.12"/><path d="M306.1,90.7 Q317.6,85.9 329.1,90.7" stroke="#fff" stroke-width="10.0" fill="none" opacity="0.55"/></g>
<use href="#bA" filter="url(#bloom)" opacity="0.45"/>
<rect x="50" y="76.0" width="290" height="208.6" filter="url(#grain)" opacity="0.045"/>
</g>
<g clip-path="url(#clipC)">
<rect x="47.9" y="417.3" width="296.1" height="199.3" fill="url(#gC_v)"/>
<rect x="47.9" y="417.3" width="296.1" height="199.3" fill="url(#gC_h)"/>
<rect x="47.9" y="417.3" width="296.1" height="199.3" fill="url(#cornerC)"/>
<g id="bC" filter="url(#blurC)"><rect x="60.2" y="424" width="24.2" height="174" fill="url(#hazeC)" opacity="0.10"/><rect x="60.9" y="440.0" width="22.8" height="4.3" fill="#fff" opacity="0.34"/><rect x="60.9" y="444.0" width="22.8" height="4.3" fill="#fff" opacity="0.35"/><rect x="60.9" y="448.0" width="22.8" height="4.3" fill="#fff" opacity="0.37"/><rect x="60.9" y="452.0" width="22.8" height="4.3" fill="#fff" opacity="0.38"/><rect x="60.9" y="456.0" width="22.8" height="4.3" fill="#fff" opacity="0.38"/><rect x="60.9" y="460.0" width="22.8" height="4.3" fill="#fff" opacity="0.39"/><rect x="60.9" y="464.0" width="22.8" height="4.3" fill="#fff" opacity="0.39"/><rect x="60.9" y="468.0" width="22.8" height="4.3" fill="#fff" opacity="0.38"/><rect x="60.9" y="472.0" width="22.8" height="4.3" fill="#fff" opacity="0.38"/><rect x="60.9" y="476.0" width="22.8" height="4.3" fill="#fff" opacity="0.37"/><rect x="60.9" y="480.0" width="22.8" height="4.3" fill="#fff" opacity="0.35"/><rect x="60.9" y="484.0" width="22.8" height="4.3" fill="#fff" opacity="0.34"/><rect x="60.9" y="488.0" width="22.8" height="4.3" fill="#fff" opacity="0.32"/><rect x="60.9" y="492.0" width="22.8" height="4.3" fill="#fff" opacity="0.30"/><rect x="60.9" y="496.0" width="22.8" height="4.3" fill="#fff" opacity="0.28"/><rect x="60.9" y="500.0" width="22.8" height="4.3" fill="#fff" opacity="0.26"/><rect x="60.9" y="504.0" width="22.8" height="4.3" fill="#fff" opacity="0.23"/><rect x="60.9" y="508.0" width="22.8" height="4.3" fill="#fff" opacity="0.21"/><rect x="60.9" y="512.0" width="22.8" height="4.3" fill="#fff" opacity="0.19"/><rect x="60.9" y="516.0" width="22.8" height="4.3" fill="#fff" opacity="0.17"/><rect x="60.9" y="520.0" width="22.8" height="4.3" fill="#fff" opacity="0.15"/><rect x="60.9" y="524.0" width="22.8" height="4.3" fill="#fff" opacity="0.13"/><rect x="60.9" y="528.0" width="22.8" height="4.3" fill="#fff" opacity="0.11"/><rect x="60.9" y="532.0" width="22.8" height="4.3" fill="#fff" opacity="0.10"/><rect x="60.9" y="536.0" width="22.8" height="4.3" fill="#fff" opacity="0.08"/><rect x="60.9" y="540.0" width="22.8" height="4.3" fill="#fff" opacity="0.07"/><rect x="60.9" y="544.0" width="22.8" height="4.3" fill="#fff" opacity="0.06"/><rect x="60.9" y="548.0" width="22.8" height="4.3" fill="#fff" opacity="0.05"/><rect x="60.9" y="552.0" width="22.8" height="4.3" fill="#fff" opacity="0.04"/><rect x="60.9" y="556.0" width="22.8" height="4.3" fill="#fff" opacity="0.03"/><rect x="60.9" y="442.8" width="22.8" height="6.0" fill="#fff" opacity="0.84"/><rect x="60.9" y="453.3" width="22.8" height="6.0" fill="#fff" opacity="0.90"/><rect x="60.9" y="464.0" width="22.8" height="6.0" fill="#fff" opacity="0.92"/><rect x="60.9" y="475.7" width="22.8" height="6.0" fill="#fff" opacity="0.87"/><rect x="60.9" y="487.5" width="22.8" height="6.0" fill="#fff" opacity="0.75"/><rect x="60.9" y="499.5" width="22.8" height="6.0" fill="#fff" opacity="0.60"/><rect x="60.9" y="509.5" width="22.8" height="6.0" fill="#fff" opacity="0.47"/><rect x="60.9" y="519.8" width="22.8" height="5.4" fill="#fff" opacity="0.35"/><rect x="60.9" y="529.0" width="22.8" height="4.9" fill="#fff" opacity="0.25"/><rect x="60.9" y="537.5" width="22.8" height="4.3" fill="#fff" opacity="0.18"/><rect x="60.9" y="544.9" width="22.8" height="4.0" fill="#fff" opacity="0.13"/><rect x="60.9" y="552.0" width="22.8" height="3.2" fill="#fff" opacity="0.09"/><rect x="60.9" y="557.4" width="22.8" height="3.2" fill="#fff" opacity="0.07"/><rect x="60.1" y="430.2" width="24.3" height="13.5" fill="#fff" opacity="1.00"/><rect x="60.9" y="581.4" width="22.8" height="6.2" fill="#fff" opacity="0.93"/><rect x="60.9" y="560" width="22.8" height="30" fill="url(#tailfade)" opacity="0.18"/><rect x="87.8" y="424" width="22.9" height="174" fill="url(#hazeC)" opacity="0.05"/><rect x="88.5" y="480.0" width="21.5" height="4.3" fill="#fff" opacity="0.02"/><rect x="88.5" y="484.0" width="21.5" height="4.3" fill="#fff" opacity="0.03"/><rect x="88.5" y="488.0" width="21.5" height="4.3" fill="#fff" opacity="0.03"/><rect x="88.5" y="492.0" width="21.5" height="4.3" fill="#fff" opacity="0.04"/><rect x="88.5" y="496.0" width="21.5" height="4.3" fill="#fff" opacity="0.04"/><rect x="88.5" y="500.0" width="21.5" height="4.3" fill="#fff" opacity="0.05"/><rect x="88.5" y="504.0" width="21.5" height="4.3" fill="#fff" opacity="0.05"/><rect x="88.5" y="508.0" width="21.5" height="4.3" fill="#fff" opacity="0.05"/><rect x="88.5" y="512.0" width="21.5" height="4.3" fill="#fff" opacity="0.06"/><rect x="88.5" y="516.0" width="21.5" height="4.3" fill="#fff" opacity="0.06"/><rect x="88.5" y="520.0" width="21.5" height="4.3" fill="#fff" opacity="0.06"/><rect x="88.5" y="524.0" width="21.5" height="4.3" fill="#fff" opacity="0.06"/><rect x="88.5" y="528.0" width="21.5" height="4.3" fill="#fff" opacity="0.06"/><rect x="88.5" y="532.0" width="21.5" height="4.3" fill="#fff" opacity="0.06"/><rect x="88.5" y="536.0" width="21.5" height="4.3" fill="#fff" opacity="0.05"/><rect x="88.5" y="540.0" width="21.5" height="4.3" fill="#fff" opacity="0.05"/><rect x="88.5" y="544.0" width="21.5" height="4.3" fill="#fff" opacity="0.05"/><rect x="88.5" y="548.0" width="21.5" height="4.3" fill="#fff" opacity="0.04"/><rect x="88.5" y="552.0" width="21.5" height="4.3" fill="#fff" opacity="0.04"/><rect x="88.5" y="556.0" width="21.5" height="4.3" fill="#fff" opacity="0.03"/><rect x="88.5" y="560.0" width="21.5" height="4.3" fill="#fff" opacity="0.03"/><rect x="88.5" y="564.0" width="21.5" height="4.3" fill="#fff" opacity="0.03"/><rect x="88.5" y="568.0" width="21.5" height="4.3" fill="#fff" opacity="0.02"/><rect x="88.5" y="572.0" width="21.5" height="4.3" fill="#fff" opacity="0.02"/><rect x="88.5" y="500.8" width="21.5" height="4.7" fill="#fff" opacity="0.10"/><rect x="88.5" y="511.0" width="21.5" height="4.7" fill="#fff" opacity="0.12"/><rect x="88.5" y="520.9" width="21.5" height="4.7" fill="#fff" opacity="0.13"/><rect x="88.5" y="529.4" width="21.5" height="4.6" fill="#fff" opacity="0.13"/><rect x="88.5" y="537.4" width="21.5" height="4.0" fill="#fff" opacity="0.12"/><rect x="88.5" y="544.2" width="21.5" height="3.6" fill="#fff" opacity="0.10"/><rect x="88.5" y="550.4" width="21.5" height="3.3" fill="#fff" opacity="0.09"/><rect x="88.5" y="556.0" width="21.5" height="3.0" fill="#fff" opacity="0.08"/><rect x="88.5" y="561.0" width="21.5" height="3.0" fill="#fff" opacity="0.07"/><rect x="88.5" y="433.9" width="21.5" height="4.6" fill="#fff" opacity="0.36"/><rect x="88.5" y="476.7" width="21.5" height="4.6" fill="#fff" opacity="0.30"/><rect x="88.5" y="550" width="21.5" height="40" fill="url(#tailfade)" opacity="0.20"/><rect x="115.0" y="424" width="22.9" height="174" fill="url(#hazeC)" opacity="0.05"/><rect x="115.7" y="480.0" width="21.5" height="4.3" fill="#fff" opacity="0.02"/><rect x="115.7" y="484.0" width="21.5" height="4.3" fill="#fff" opacity="0.03"/><rect x="115.7" y="488.0" width="21.5" height="4.3" fill="#fff" opacity="0.03"/><rect x="115.7" y="492.0" width="21.5" height="4.3" fill="#fff" opacity="0.04"/><rect x="115.7" y="496.0" width="21.5" height="4.3" fill="#fff" opacity="0.04"/><rect x="115.7" y="500.0" width="21.5" height="4.3" fill="#fff" opacity="0.05"/><rect x="115.7" y="504.0" width="21.5" height="4.3" fill="#fff" opacity="0.05"/><rect x="115.7" y="508.0" width="21.5" height="4.3" fill="#fff" opacity="0.05"/><rect x="115.7" y="512.0" width="21.5" height="4.3" fill="#fff" opacity="0.06"/><rect x="115.7" y="516.0" width="21.5" height="4.3" fill="#fff" opacity="0.06"/><rect x="115.7" y="520.0" width="21.5" height="4.3" fill="#fff" opacity="0.06"/><rect x="115.7" y="524.0" width="21.5" height="4.3" fill="#fff" opacity="0.06"/><rect x="115.7" y="528.0" width="21.5" height="4.3" fill="#fff" opacity="0.06"/><rect x="115.7" y="532.0" width="21.5" height="4.3" fill="#fff" opacity="0.06"/><rect x="115.7" y="536.0" width="21.5" height="4.3" fill="#fff" opacity="0.05"/><rect x="115.7" y="540.0" width="21.5" height="4.3" fill="#fff" opacity="0.05"/><rect x="115.7" y="544.0" width="21.5" height="4.3" fill="#fff" opacity="0.05"/><rect x="115.7" y="548.0" width="21.5" height="4.3" fill="#fff" opacity="0.04"/><rect x="115.7" y="552.0" width="21.5" height="4.3" fill="#fff" opacity="0.04"/><rect x="115.7" y="556.0" width="21.5" height="4.3" fill="#fff" opacity="0.03"/><rect x="115.7" y="560.0" width="21.5" height="4.3" fill="#fff" opacity="0.03"/><rect x="115.7" y="564.0" width="21.5" height="4.3" fill="#fff" opacity="0.03"/><rect x="115.7" y="568.0" width="21.5" height="4.3" fill="#fff" opacity="0.02"/><rect x="115.7" y="572.0" width="21.5" height="4.3" fill="#fff" opacity="0.02"/><rect x="115.7" y="500.8" width="21.5" height="4.7" fill="#fff" opacity="0.10"/><rect x="115.7" y="511.0" width="21.5" height="4.7" fill="#fff" opacity="0.12"/><rect x="115.7" y="520.9" width="21.5" height="4.7" fill="#fff" opacity="0.13"/><rect x="115.7" y="529.4" width="21.5" height="4.6" fill="#fff" opacity="0.13"/><rect x="115.7" y="537.4" width="21.5" height="4.0" fill="#fff" opacity="0.12"/><rect x="115.7" y="544.2" width="21.5" height="3.6" fill="#fff" opacity="0.10"/><rect x="115.7" y="550.4" width="21.5" height="3.3" fill="#fff" opacity="0.09"/><rect x="115.7" y="556.0" width="21.5" height="3.0" fill="#fff" opacity="0.08"/><rect x="115.7" y="561.0" width="21.5" height="3.0" fill="#fff" opacity="0.07"/><rect x="115.7" y="433.9" width="21.5" height="4.6" fill="#fff" opacity="0.34"/><rect x="115.7" y="476.7" width="21.5" height="4.6" fill="#fff" opacity="0.28"/><rect x="115.7" y="550" width="21.5" height="40" fill="url(#tailfade)" opacity="0.19"/><rect x="142.5" y="424" width="22.9" height="172" fill="url(#hazeC)" opacity="0.05"/><rect x="143.2" y="444.0" width="21.5" height="4.3" fill="#fff" opacity="0.02"/><rect x="143.2" y="448.0" width="21.5" height="4.3" fill="#fff" opacity="0.02"/><rect x="143.2" y="452.0" width="21.5" height="4.3" fill="#fff" opacity="0.02"/><rect x="143.2" y="456.0" width="21.5" height="4.3" fill="#fff" opacity="0.03"/><rect x="143.2" y="460.0" width="21.5" height="4.3" fill="#fff" opacity="0.03"/><rect x="143.2" y="464.0" width="21.5" height="4.3" fill="#fff" opacity="0.04"/><rect x="143.2" y="468.0" width="21.5" height="4.3" fill="#fff" opacity="0.04"/><rect x="143.2" y="472.0" width="21.5" height="4.3" fill="#fff" opacity="0.04"/><rect x="143.2" y="476.0" width="21.5" height="4.3" fill="#fff" opacity="0.05"/><rect x="143.2" y="480.0" width="21.5" height="4.3" fill="#fff" opacity="0.05"/><rect x="143.2" y="484.0" width="21.5" height="4.3" fill="#fff" opacity="0.06"/><rect x="143.2" y="488.0" width="21.5" height="4.3" fill="#fff" opacity="0.06"/><rect x="143.2" y="492.0" width="21.5" height="4.3" fill="#fff" opacity="0.07"/><rect x="143.2" y="496.0" width="21.5" height="4.3" fill="#fff" opacity="0.07"/><rect x="143.2" y="500.0" width="21.5" height="4.3" fill="#fff" opacity="0.07"/><rect x="143.2" y="504.0" width="21.5" height="4.3" fill="#fff" opacity="0.07"/><rect x="143.2" y="508.0" width="21.5" height="4.3" fill="#fff" opacity="0.07"/><rect x="143.2" y="512.0" width="21.5" height="4.3" fill="#fff" opacity="0.07"/><rect x="143.2" y="516.0" width="21.5" height="4.3" fill="#fff" opacity="0.07"/><rect x="143.2" y="520.0" width="21.5" height="4.3" fill="#fff" opacity="0.07"/><rect x="143.2" y="524.0" width="21.5" height="4.3" fill="#fff" opacity="0.07"/><rect x="143.2" y="528.0" width="21.5" height="4.3" fill="#fff" opacity="0.07"/><rect x="143.2" y="532.0" width="21.5" height="4.3" fill="#fff" opacity="0.07"/><rect x="143.2" y="536.0" width="21.5" height="4.3" fill="#fff" opacity="0.06"/><rect x="143.2" y="540.0" width="21.5" height="4.3" fill="#fff" opacity="0.06"/><rect x="143.2" y="544.0" width="21.5" height="4.3" fill="#fff" opacity="0.06"/><rect x="143.2" y="548.0" width="21.5" height="4.3" fill="#fff" opacity="0.05"/><rect x="143.2" y="552.0" width="21.5" height="4.3" fill="#fff" opacity="0.05"/><rect x="143.2" y="556.0" width="21.5" height="4.3" fill="#fff" opacity="0.04"/><rect x="143.2" y="560.0" width="21.5" height="4.3" fill="#fff" opacity="0.04"/><rect x="143.2" y="564.0" width="21.5" height="4.3" fill="#fff" opacity="0.03"/><rect x="143.2" y="568.0" width="21.5" height="4.3" fill="#fff" opacity="0.03"/><rect x="143.2" y="572.0" width="21.5" height="4.3" fill="#fff" opacity="0.03"/><rect x="143.2" y="576.0" width="21.5" height="4.3" fill="#fff" opacity="0.02"/><rect x="143.2" y="580.0" width="21.5" height="4.3" fill="#fff" opacity="0.02"/><rect x="143.2" y="584.0" width="21.5" height="4.3" fill="#fff" opacity="0.02"/><rect x="143.2" y="443.4" width="21.5" height="4.7" fill="#fff" opacity="0.03"/><rect x="143.2" y="453.9" width="21.5" height="4.7" fill="#fff" opacity="0.05"/><rect x="143.2" y="466.2" width="21.5" height="4.7" fill="#fff" opacity="0.08"/><rect x="143.2" y="477.6" width="21.5" height="4.7" fill="#fff" opacity="0.10"/><rect x="143.2" y="489.4" width="21.5" height="4.7" fill="#fff" opacity="0.13"/><rect x="143.2" y="500.8" width="21.5" height="4.7" fill="#fff" opacity="0.14"/><rect x="143.2" y="511.0" width="21.5" height="4.7" fill="#fff" opacity="0.15"/><rect x="143.2" y="520.9" width="21.5" height="4.7" fill="#fff" opacity="0.15"/><rect x="143.2" y="529.4" width="21.5" height="4.6" fill="#fff" opacity="0.14"/><rect x="143.2" y="537.4" width="21.5" height="4.0" fill="#fff" opacity="0.12"/><rect x="143.2" y="544.2" width="21.5" height="3.6" fill="#fff" opacity="0.11"/><rect x="143.2" y="550.4" width="21.5" height="3.3" fill="#fff" opacity="0.10"/><rect x="143.2" y="556.0" width="21.5" height="3.0" fill="#fff" opacity="0.09"/><rect x="143.2" y="561.0" width="21.5" height="3.0" fill="#fff" opacity="0.07"/><rect x="143.2" y="433.3" width="21.5" height="5.0" fill="#fff" opacity="0.30"/><rect x="143.2" y="477.2" width="21.5" height="5.0" fill="#fff" opacity="0.10"/><rect x="143.2" y="581.7" width="21.5" height="6.2" fill="#fff" opacity="0.88"/><rect x="143.2" y="555" width="21.5" height="35" fill="url(#tailfade)" opacity="0.22"/><rect x="169.9" y="424" width="22.9" height="172" fill="url(#hazeC)" opacity="0.06"/><rect x="170.6" y="440.0" width="21.5" height="4.3" fill="#fff" opacity="0.04"/><rect x="170.6" y="444.0" width="21.5" height="4.3" fill="#fff" opacity="0.04"/><rect x="170.6" y="448.0" width="21.5" height="4.3" fill="#fff" opacity="0.05"/><rect x="170.6" y="452.0" width="21.5" height="4.3" fill="#fff" opacity="0.05"/><rect x="170.6" y="456.0" width="21.5" height="4.3" fill="#fff" opacity="0.06"/><rect x="170.6" y="460.0" width="21.5" height="4.3" fill="#fff" opacity="0.07"/><rect x="170.6" y="464.0" width="21.5" height="4.3" fill="#fff" opacity="0.07"/><rect x="170.6" y="468.0" width="21.5" height="4.3" fill="#fff" opacity="0.08"/><rect x="170.6" y="472.0" width="21.5" height="4.3" fill="#fff" opacity="0.08"/><rect x="170.6" y="476.0" width="21.5" height="4.3" fill="#fff" opacity="0.09"/><rect x="170.6" y="480.0" width="21.5" height="4.3" fill="#fff" opacity="0.09"/><rect x="170.6" y="484.0" width="21.5" height="4.3" fill="#fff" opacity="0.10"/><rect x="170.6" y="488.0" width="21.5" height="4.3" fill="#fff" opacity="0.10"/><rect x="170.6" y="492.0" width="21.5" height="4.3" fill="#fff" opacity="0.11"/><rect x="170.6" y="496.0" width="21.5" height="4.3" fill="#fff" opacity="0.11"/><rect x="170.6" y="500.0" width="21.5" height="4.3" fill="#fff" opacity="0.11"/><rect x="170.6" y="504.0" width="21.5" height="4.3" fill="#fff" opacity="0.11"/><rect x="170.6" y="508.0" width="21.5" height="4.3" fill="#fff" opacity="0.11"/><rect x="170.6" y="512.0" width="21.5" height="4.3" fill="#fff" opacity="0.11"/><rect x="170.6" y="516.0" width="21.5" height="4.3" fill="#fff" opacity="0.10"/><rect x="170.6" y="520.0" width="21.5" height="4.3" fill="#fff" opacity="0.10"/><rect x="170.6" y="524.0" width="21.5" height="4.3" fill="#fff" opacity="0.10"/><rect x="170.6" y="528.0" width="21.5" height="4.3" fill="#fff" opacity="0.09"/><rect x="170.6" y="532.0" width="21.5" height="4.3" fill="#fff" opacity="0.09"/><rect x="170.6" y="536.0" width="21.5" height="4.3" fill="#fff" opacity="0.08"/><rect x="170.6" y="540.0" width="21.5" height="4.3" fill="#fff" opacity="0.07"/><rect x="170.6" y="544.0" width="21.5" height="4.3" fill="#fff" opacity="0.07"/><rect x="170.6" y="548.0" width="21.5" height="4.3" fill="#fff" opacity="0.06"/><rect x="170.6" y="552.0" width="21.5" height="4.3" fill="#fff" opacity="0.06"/><rect x="170.6" y="556.0" width="21.5" height="4.3" fill="#fff" opacity="0.05"/><rect x="170.6" y="560.0" width="21.5" height="4.3" fill="#fff" opacity="0.04"/><rect x="170.6" y="564.0" width="21.5" height="4.3" fill="#fff" opacity="0.04"/><rect x="170.6" y="568.0" width="21.5" height="4.3" fill="#fff" opacity="0.03"/><rect x="170.6" y="572.0" width="21.5" height="4.3" fill="#fff" opacity="0.03"/><rect x="170.6" y="576.0" width="21.5" height="4.3" fill="#fff" opacity="0.02"/><rect x="170.6" y="580.0" width="21.5" height="4.3" fill="#fff" opacity="0.02"/><rect x="170.6" y="584.0" width="21.5" height="4.3" fill="#fff" opacity="0.02"/><rect x="170.6" y="443.4" width="21.5" height="4.7" fill="#fff" opacity="0.08"/><rect x="170.6" y="453.9" width="21.5" height="4.7" fill="#fff" opacity="0.11"/><rect x="170.6" y="466.2" width="21.5" height="4.7" fill="#fff" opacity="0.15"/><rect x="170.6" y="477.6" width="21.5" height="4.7" fill="#fff" opacity="0.18"/><rect x="170.6" y="489.4" width="21.5" height="4.7" fill="#fff" opacity="0.21"/><rect x="170.6" y="500.8" width="21.5" height="4.7" fill="#fff" opacity="0.22"/><rect x="170.6" y="511.0" width="21.5" height="4.7" fill="#fff" opacity="0.22"/><rect x="170.6" y="520.9" width="21.5" height="4.7" fill="#fff" opacity="0.20"/><rect x="170.6" y="529.4" width="21.5" height="4.6" fill="#fff" opacity="0.18"/><rect x="170.6" y="537.4" width="21.5" height="4.0" fill="#fff" opacity="0.16"/><rect x="170.6" y="544.2" width="21.5" height="3.6" fill="#fff" opacity="0.14"/><rect x="170.6" y="550.4" width="21.5" height="3.3" fill="#fff" opacity="0.12"/><rect x="170.6" y="556.0" width="21.5" height="3.0" fill="#fff" opacity="0.10"/><rect x="170.6" y="561.0" width="21.5" height="3.0" fill="#fff" opacity="0.09"/><rect x="170.6" y="433.3" width="21.5" height="5.0" fill="#fff" opacity="0.36"/><rect x="170.6" y="477.2" width="21.5" height="5.0" fill="#fff" opacity="0.12"/><rect x="170.6" y="581.2" width="21.5" height="6.2" fill="#fff" opacity="0.93"/><rect x="170.6" y="555" width="21.5" height="35" fill="url(#tailfade)" opacity="0.25"/><rect x="197.7" y="424" width="22.9" height="172" fill="url(#hazeC)" opacity="0.07"/><rect x="198.3" y="440.0" width="21.5" height="4.3" fill="#fff" opacity="0.05"/><rect x="198.3" y="444.0" width="21.5" height="4.3" fill="#fff" opacity="0.06"/><rect x="198.3" y="448.0" width="21.5" height="4.3" fill="#fff" opacity="0.06"/><rect x="198.3" y="452.0" width="21.5" height="4.3" fill="#fff" opacity="0.07"/><rect x="198.3" y="456.0" width="21.5" height="4.3" fill="#fff" opacity="0.07"/><rect x="198.3" y="460.0" width="21.5" height="4.3" fill="#fff" opacity="0.08"/><rect x="198.3" y="464.0" width="21.5" height="4.3" fill="#fff" opacity="0.08"/><rect x="198.3" y="468.0" width="21.5" height="4.3" fill="#fff" opacity="0.08"/><rect x="198.3" y="472.0" width="21.5" height="4.3" fill="#fff" opacity="0.09"/><rect x="198.3" y="476.0" width="21.5" height="4.3" fill="#fff" opacity="0.09"/><rect x="198.3" y="480.0" width="21.5" height="4.3" fill="#fff" opacity="0.09"/><rect x="198.3" y="484.0" width="21.5" height="4.3" fill="#fff" opacity="0.09"/><rect x="198.3" y="488.0" width="21.5" height="4.3" fill="#fff" opacity="0.09"/><rect x="198.3" y="492.0" width="21.5" height="4.3" fill="#fff" opacity="0.09"/><rect x="198.3" y="496.0" width="21.5" height="4.3" fill="#fff" opacity="0.09"/><rect x="198.3" y="500.0" width="21.5" height="4.3" fill="#fff" opacity="0.09"/><rect x="198.3" y="504.0" width="21.5" height="4.3" fill="#fff" opacity="0.09"/><rect x="198.3" y="508.0" width="21.5" height="4.3" fill="#fff" opacity="0.08"/><rect x="198.3" y="512.0" width="21.5" height="4.3" fill="#fff" opacity="0.08"/><rect x="198.3" y="516.0" width="21.5" height="4.3" fill="#fff" opacity="0.08"/><rect x="198.3" y="520.0" width="21.5" height="4.3" fill="#fff" opacity="0.07"/><rect x="198.3" y="524.0" width="21.5" height="4.3" fill="#fff" opacity="0.07"/><rect x="198.3" y="528.0" width="21.5" height="4.3" fill="#fff" opacity="0.06"/><rect x="198.3" y="532.0" width="21.5" height="4.3" fill="#fff" opacity="0.06"/><rect x="198.3" y="536.0" width="21.5" height="4.3" fill="#fff" opacity="0.05"/><rect x="198.3" y="540.0" width="21.5" height="4.3" fill="#fff" opacity="0.05"/><rect x="198.3" y="544.0" width="21.5" height="4.3" fill="#fff" opacity="0.04"/><rect x="198.3" y="548.0" width="21.5" height="4.3" fill="#fff" opacity="0.04"/><rect x="198.3" y="552.0" width="21.5" height="4.3" fill="#fff" opacity="0.03"/><rect x="198.3" y="556.0" width="21.5" height="4.3" fill="#fff" opacity="0.03"/><rect x="198.3" y="560.0" width="21.5" height="4.3" fill="#fff" opacity="0.02"/><rect x="198.3" y="564.0" width="21.5" height="4.3" fill="#fff" opacity="0.02"/><rect x="198.3" y="568.0" width="21.5" height="4.3" fill="#fff" opacity="0.02"/><rect x="198.3" y="443.4" width="21.5" height="4.7" fill="#fff" opacity="0.28"/><rect x="198.3" y="453.9" width="21.5" height="4.7" fill="#fff" opacity="0.34"/><rect x="198.3" y="466.2" width="21.5" height="4.7" fill="#fff" opacity="0.41"/><rect x="198.3" y="477.6" width="21.5" height="4.7" fill="#fff" opacity="0.45"/><rect x="198.3" y="489.4" width="21.5" height="4.7" fill="#fff" opacity="0.46"/><rect x="198.3" y="500.8" width="21.5" height="4.7" fill="#fff" opacity="0.44"/><rect x="198.3" y="511.0" width="21.5" height="4.7" fill="#fff" opacity="0.40"/><rect x="198.3" y="520.9" width="21.5" height="4.7" fill="#fff" opacity="0.35"/><rect x="198.3" y="529.4" width="21.5" height="4.6" fill="#fff" opacity="0.29"/><rect x="198.3" y="537.4" width="21.5" height="4.0" fill="#fff" opacity="0.24"/><rect x="198.3" y="544.2" width="21.5" height="3.6" fill="#fff" opacity="0.20"/><rect x="198.3" y="550.4" width="21.5" height="3.3" fill="#fff" opacity="0.17"/><rect x="198.3" y="556.0" width="21.5" height="3.0" fill="#fff" opacity="0.14"/><rect x="198.3" y="561.0" width="21.5" height="3.0" fill="#fff" opacity="0.12"/><rect x="198.3" y="432.8" width="21.5" height="6.0" fill="#fff" opacity="0.48"/><rect x="198.3" y="477.2" width="21.5" height="5.0" fill="#fff" opacity="0.18"/><rect x="198.3" y="580.6" width="21.5" height="6.2" fill="#fff" opacity="0.96"/><rect x="198.3" y="555" width="21.5" height="35" fill="url(#tailfade)" opacity="0.25"/><rect x="225.5" y="424" width="22.9" height="172" fill="url(#hazeC)" opacity="0.07"/><rect x="226.2" y="440.0" width="21.5" height="4.3" fill="#fff" opacity="0.06"/><rect x="226.2" y="444.0" width="21.5" height="4.3" fill="#fff" opacity="0.06"/><rect x="226.2" y="448.0" width="21.5" height="4.3" fill="#fff" opacity="0.07"/><rect x="226.2" y="452.0" width="21.5" height="4.3" fill="#fff" opacity="0.07"/><rect x="226.2" y="456.0" width="21.5" height="4.3" fill="#fff" opacity="0.08"/><rect x="226.2" y="460.0" width="21.5" height="4.3" fill="#fff" opacity="0.08"/><rect x="226.2" y="464.0" width="21.5" height="4.3" fill="#fff" opacity="0.09"/><rect x="226.2" y="468.0" width="21.5" height="4.3" fill="#fff" opacity="0.09"/><rect x="226.2" y="472.0" width="21.5" height="4.3" fill="#fff" opacity="0.09"/><rect x="226.2" y="476.0" width="21.5" height="4.3" fill="#fff" opacity="0.09"/><rect x="226.2" y="480.0" width="21.5" height="4.3" fill="#fff" opacity="0.10"/><rect x="226.2" y="484.0" width="21.5" height="4.3" fill="#fff" opacity="0.10"/><rect x="226.2" y="488.0" width="21.5" height="4.3" fill="#fff" opacity="0.10"/><rect x="226.2" y="492.0" width="21.5" height="4.3" fill="#fff" opacity="0.09"/><rect x="226.2" y="496.0" width="21.5" height="4.3" fill="#fff" opacity="0.09"/><rect x="226.2" y="500.0" width="21.5" height="4.3" fill="#fff" opacity="0.09"/><rect x="226.2" y="504.0" width="21.5" height="4.3" fill="#fff" opacity="0.09"/><rect x="226.2" y="508.0" width="21.5" height="4.3" fill="#fff" opacity="0.08"/><rect x="226.2" y="512.0" width="21.5" height="4.3" fill="#fff" opacity="0.08"/><rect x="226.2" y="516.0" width="21.5" height="4.3" fill="#fff" opacity="0.07"/><rect x="226.2" y="520.0" width="21.5" height="4.3" fill="#fff" opacity="0.07"/><rect x="226.2" y="524.0" width="21.5" height="4.3" fill="#fff" opacity="0.06"/><rect x="226.2" y="528.0" width="21.5" height="4.3" fill="#fff" opacity="0.06"/><rect x="226.2" y="532.0" width="21.5" height="4.3" fill="#fff" opacity="0.05"/><rect x="226.2" y="536.0" width="21.5" height="4.3" fill="#fff" opacity="0.05"/><rect x="226.2" y="540.0" width="21.5" height="4.3" fill="#fff" opacity="0.04"/><rect x="226.2" y="544.0" width="21.5" height="4.3" fill="#fff" opacity="0.04"/><rect x="226.2" y="548.0" width="21.5" height="4.3" fill="#fff" opacity="0.03"/><rect x="226.2" y="552.0" width="21.5" height="4.3" fill="#fff" opacity="0.03"/><rect x="226.2" y="556.0" width="21.5" height="4.3" fill="#fff" opacity="0.03"/><rect x="226.2" y="560.0" width="21.5" height="4.3" fill="#fff" opacity="0.02"/><rect x="226.2" y="564.0" width="21.5" height="4.3" fill="#fff" opacity="0.02"/><rect x="226.2" y="568.0" width="21.5" height="4.3" fill="#fff" opacity="0.02"/><rect x="226.2" y="442.8" width="21.5" height="4.7" fill="#fff" opacity="0.31"/><rect x="226.2" y="453.2" width="21.5" height="4.7" fill="#fff" opacity="0.38"/><rect x="226.2" y="465.6" width="21.5" height="4.7" fill="#fff" opacity="0.44"/><rect x="226.2" y="476.9" width="21.5" height="4.7" fill="#fff" opacity="0.47"/><rect x="226.2" y="488.8" width="21.5" height="4.7" fill="#fff" opacity="0.48"/><rect x="226.2" y="500.1" width="21.5" height="4.7" fill="#fff" opacity="0.45"/><rect x="226.2" y="510.3" width="21.5" height="4.7" fill="#fff" opacity="0.40"/><rect x="226.2" y="520.1" width="21.5" height="4.7" fill="#fff" opacity="0.34"/><rect x="226.2" y="528.7" width="21.5" height="4.6" fill="#fff" opacity="0.28"/><rect x="226.2" y="536.7" width="21.5" height="4.0" fill="#fff" opacity="0.23"/><rect x="226.2" y="543.5" width="21.5" height="3.6" fill="#fff" opacity="0.19"/><rect x="226.2" y="549.6" width="21.5" height="3.3" fill="#fff" opacity="0.16"/><rect x="226.2" y="555.3" width="21.5" height="3.0" fill="#fff" opacity="0.13"/><rect x="226.2" y="560.3" width="21.5" height="3.0" fill="#fff" opacity="0.11"/><rect x="226.2" y="432.0" width="21.5" height="6.0" fill="#fff" opacity="0.48"/><rect x="226.2" y="476.5" width="21.5" height="5.0" fill="#fff" opacity="0.18"/><rect x="226.2" y="580.1" width="21.5" height="6.2" fill="#fff" opacity="0.96"/><rect x="226.2" y="555" width="21.5" height="35" fill="url(#tailfade)" opacity="0.25"/><rect x="252.2" y="424" width="22.9" height="172" fill="url(#hazeC)" opacity="0.07"/><rect x="252.9" y="438.0" width="21.5" height="4.3" fill="#fff" opacity="0.06"/><rect x="252.9" y="442.0" width="21.5" height="4.3" fill="#fff" opacity="0.07"/><rect x="252.9" y="446.0" width="21.5" height="4.3" fill="#fff" opacity="0.07"/><rect x="252.9" y="450.0" width="21.5" height="4.3" fill="#fff" opacity="0.08"/><rect x="252.9" y="454.0" width="21.5" height="4.3" fill="#fff" opacity="0.08"/><rect x="252.9" y="458.0" width="21.5" height="4.3" fill="#fff" opacity="0.09"/><rect x="252.9" y="462.0" width="21.5" height="4.3" fill="#fff" opacity="0.09"/><rect x="252.9" y="466.0" width="21.5" height="4.3" fill="#fff" opacity="0.09"/><rect x="252.9" y="470.0" width="21.5" height="4.3" fill="#fff" opacity="0.10"/><rect x="252.9" y="474.0" width="21.5" height="4.3" fill="#fff" opacity="0.10"/><rect x="252.9" y="478.0" width="21.5" height="4.3" fill="#fff" opacity="0.10"/><rect x="252.9" y="482.0" width="21.5" height="4.3" fill="#fff" opacity="0.10"/><rect x="252.9" y="486.0" width="21.5" height="4.3" fill="#fff" opacity="0.09"/><rect x="252.9" y="490.0" width="21.5" height="4.3" fill="#fff" opacity="0.09"/><rect x="252.9" y="494.0" width="21.5" height="4.3" fill="#fff" opacity="0.09"/><rect x="252.9" y="498.0" width="21.5" height="4.3" fill="#fff" opacity="0.08"/><rect x="252.9" y="502.0" width="21.5" height="4.3" fill="#fff" opacity="0.08"/><rect x="252.9" y="506.0" width="21.5" height="4.3" fill="#fff" opacity="0.07"/><rect x="252.9" y="510.0" width="21.5" height="4.3" fill="#fff" opacity="0.07"/><rect x="252.9" y="514.0" width="21.5" height="4.3" fill="#fff" opacity="0.06"/><rect x="252.9" y="518.0" width="21.5" height="4.3" fill="#fff" opacity="0.06"/><rect x="252.9" y="522.0" width="21.5" height="4.3" fill="#fff" opacity="0.05"/><rect x="252.9" y="526.0" width="21.5" height="4.3" fill="#fff" opacity="0.05"/><rect x="252.9" y="530.0" width="21.5" height="4.3" fill="#fff" opacity="0.04"/><rect x="252.9" y="534.0" width="21.5" height="4.3" fill="#fff" opacity="0.04"/><rect x="252.9" y="538.0" width="21.5" height="4.3" fill="#fff" opacity="0.03"/><rect x="252.9" y="542.0" width="21.5" height="4.3" fill="#fff" opacity="0.03"/><rect x="252.9" y="546.0" width="21.5" height="4.3" fill="#fff" opacity="0.02"/><rect x="252.9" y="550.0" width="21.5" height="4.3" fill="#fff" opacity="0.02"/><rect x="252.9" y="554.0" width="21.5" height="4.3" fill="#fff" opacity="0.02"/><rect x="252.9" y="442.4" width="21.5" height="4.7" fill="#fff" opacity="0.35"/><rect x="252.9" y="452.9" width="21.5" height="4.7" fill="#fff" opacity="0.41"/><rect x="252.9" y="465.2" width="21.5" height="4.7" fill="#fff" opacity="0.47"/><rect x="252.9" y="476.6" width="21.5" height="4.7" fill="#fff" opacity="0.48"/><rect x="252.9" y="488.4" width="21.5" height="4.7" fill="#fff" opacity="0.46"/><rect x="252.9" y="499.8" width="21.5" height="4.7" fill="#fff" opacity="0.41"/><rect x="252.9" y="510.0" width="21.5" height="4.7" fill="#fff" opacity="0.34"/><rect x="252.9" y="519.9" width="21.5" height="4.7" fill="#fff" opacity="0.28"/><rect x="252.9" y="528.4" width="21.5" height="4.6" fill="#fff" opacity="0.22"/><rect x="252.9" y="536.4" width="21.5" height="4.0" fill="#fff" opacity="0.17"/><rect x="252.9" y="543.2" width="21.5" height="3.6" fill="#fff" opacity="0.13"/><rect x="252.9" y="549.2" width="21.5" height="3.6" fill="#fff" opacity="0.11"/><rect x="252.9" y="430.8" width="21.5" height="7.0" fill="#fff" opacity="0.52"/><rect x="252.9" y="476.2" width="21.5" height="5.0" fill="#fff" opacity="0.18"/><rect x="252.9" y="579.5" width="21.5" height="6.2" fill="#fff" opacity="0.78"/><rect x="252.9" y="555" width="21.5" height="35" fill="url(#tailfade)" opacity="0.20"/><rect x="279.6" y="424" width="22.9" height="172" fill="url(#hazeC)" opacity="0.06"/><rect x="280.2" y="436.0" width="21.5" height="4.3" fill="#fff" opacity="0.08"/><rect x="280.2" y="440.0" width="21.5" height="4.3" fill="#fff" opacity="0.09"/><rect x="280.2" y="444.0" width="21.5" height="4.3" fill="#fff" opacity="0.09"/><rect x="280.2" y="448.0" width="21.5" height="4.3" fill="#fff" opacity="0.10"/><rect x="280.2" y="452.0" width="21.5" height="4.3" fill="#fff" opacity="0.10"/><rect x="280.2" y="456.0" width="21.5" height="4.3" fill="#fff" opacity="0.10"/><rect x="280.2" y="460.0" width="21.5" height="4.3" fill="#fff" opacity="0.10"/><rect x="280.2" y="464.0" width="21.5" height="4.3" fill="#fff" opacity="0.10"/><rect x="280.2" y="468.0" width="21.5" height="4.3" fill="#fff" opacity="0.10"/><rect x="280.2" y="472.0" width="21.5" height="4.3" fill="#fff" opacity="0.10"/><rect x="280.2" y="476.0" width="21.5" height="4.3" fill="#fff" opacity="0.09"/><rect x="280.2" y="480.0" width="21.5" height="4.3" fill="#fff" opacity="0.09"/><rect x="280.2" y="484.0" width="21.5" height="4.3" fill="#fff" opacity="0.08"/><rect x="280.2" y="488.0" width="21.5" height="4.3" fill="#fff" opacity="0.07"/><rect x="280.2" y="492.0" width="21.5" height="4.3" fill="#fff" opacity="0.06"/><rect x="280.2" y="496.0" width="21.5" height="4.3" fill="#fff" opacity="0.06"/><rect x="280.2" y="500.0" width="21.5" height="4.3" fill="#fff" opacity="0.05"/><rect x="280.2" y="504.0" width="21.5" height="4.3" fill="#fff" opacity="0.04"/><rect x="280.2" y="508.0" width="21.5" height="4.3" fill="#fff" opacity="0.04"/><rect x="280.2" y="512.0" width="21.5" height="4.3" fill="#fff" opacity="0.03"/><rect x="280.2" y="516.0" width="21.5" height="4.3" fill="#fff" opacity="0.03"/><rect x="280.2" y="520.0" width="21.5" height="4.3" fill="#fff" opacity="0.02"/><rect x="280.2" y="524.0" width="21.5" height="4.3" fill="#fff" opacity="0.02"/><rect x="280.2" y="441.9" width="21.5" height="4.7" fill="#fff" opacity="0.40"/><rect x="280.2" y="452.4" width="21.5" height="4.7" fill="#fff" opacity="0.45"/><rect x="280.2" y="464.8" width="21.5" height="4.7" fill="#fff" opacity="0.45"/><rect x="280.2" y="476.1" width="21.5" height="4.7" fill="#fff" opacity="0.41"/><rect x="280.2" y="487.9" width="21.5" height="4.7" fill="#fff" opacity="0.33"/><rect x="280.2" y="499.3" width="21.5" height="4.7" fill="#fff" opacity="0.23"/><rect x="280.2" y="509.5" width="21.5" height="4.7" fill="#fff" opacity="0.16"/><rect x="280.2" y="519.4" width="21.5" height="4.7" fill="#fff" opacity="0.10"/><rect x="280.2" y="527.9" width="21.5" height="4.6" fill="#fff" opacity="0.06"/><rect x="280.2" y="535.6" width="21.5" height="4.6" fill="#fff" opacity="0.04"/><rect x="279.5" y="430.2" width="23.0" height="8.5" fill="#fff" opacity="0.68"/><rect x="280.2" y="579.5" width="21.5" height="6.0" fill="#fff" opacity="0.13"/><rect x="307.4" y="424" width="22.9" height="172" fill="url(#hazeC)" opacity="0.06"/><rect x="308.1" y="436.0" width="21.5" height="4.3" fill="#fff" opacity="0.08"/><rect x="308.1" y="440.0" width="21.5" height="4.3" fill="#fff" opacity="0.09"/><rect x="308.1" y="444.0" width="21.5" height="4.3" fill="#fff" opacity="0.09"/><rect x="308.1" y="448.0" width="21.5" height="4.3" fill="#fff" opacity="0.10"/><rect x="308.1" y="452.0" width="21.5" height="4.3" fill="#fff" opacity="0.10"/><rect x="308.1" y="456.0" width="21.5" height="4.3" fill="#fff" opacity="0.10"/><rect x="308.1" y="460.0" width="21.5" height="4.3" fill="#fff" opacity="0.10"/><rect x="308.1" y="464.0" width="21.5" height="4.3" fill="#fff" opacity="0.10"/><rect x="308.1" y="468.0" width="21.5" height="4.3" fill="#fff" opacity="0.10"/><rect x="308.1" y="472.0" width="21.5" height="4.3" fill="#fff" opacity="0.09"/><rect x="308.1" y="476.0" width="21.5" height="4.3" fill="#fff" opacity="0.09"/><rect x="308.1" y="480.0" width="21.5" height="4.3" fill="#fff" opacity="0.08"/><rect x="308.1" y="484.0" width="21.5" height="4.3" fill="#fff" opacity="0.08"/><rect x="308.1" y="488.0" width="21.5" height="4.3" fill="#fff" opacity="0.07"/><rect x="308.1" y="492.0" width="21.5" height="4.3" fill="#fff" opacity="0.06"/><rect x="308.1" y="496.0" width="21.5" height="4.3" fill="#fff" opacity="0.05"/><rect x="308.1" y="500.0" width="21.5" height="4.3" fill="#fff" opacity="0.05"/><rect x="308.1" y="504.0" width="21.5" height="4.3" fill="#fff" opacity="0.04"/><rect x="308.1" y="508.0" width="21.5" height="4.3" fill="#fff" opacity="0.03"/><rect x="308.1" y="512.0" width="21.5" height="4.3" fill="#fff" opacity="0.03"/><rect x="308.1" y="516.0" width="21.5" height="4.3" fill="#fff" opacity="0.02"/><rect x="308.1" y="520.0" width="21.5" height="4.3" fill="#fff" opacity="0.02"/><rect x="308.1" y="524.0" width="21.5" height="4.3" fill="#fff" opacity="0.02"/><rect x="308.1" y="441.1" width="21.5" height="4.7" fill="#fff" opacity="0.41"/><rect x="308.1" y="451.6" width="21.5" height="4.7" fill="#fff" opacity="0.45"/><rect x="308.1" y="463.9" width="21.5" height="4.7" fill="#fff" opacity="0.45"/><rect x="308.1" y="475.3" width="21.5" height="4.7" fill="#fff" opacity="0.40"/><rect x="308.1" y="487.1" width="21.5" height="4.7" fill="#fff" opacity="0.32"/><rect x="308.1" y="498.5" width="21.5" height="4.7" fill="#fff" opacity="0.22"/><rect x="308.1" y="508.7" width="21.5" height="4.7" fill="#fff" opacity="0.15"/><rect x="308.1" y="518.6" width="21.5" height="4.7" fill="#fff" opacity="0.09"/><rect x="308.1" y="527.1" width="21.5" height="4.6" fill="#fff" opacity="0.06"/><rect x="308.1" y="534.8" width="21.5" height="4.6" fill="#fff" opacity="0.04"/><rect x="307.3" y="429.2" width="23.0" height="8.5" fill="#fff" opacity="0.68"/><rect x="308.1" y="579.0" width="21.5" height="6.0" fill="#fff" opacity="0.11"/></g>
<use href="#bC" filter="url(#bloom)" opacity="0.35"/>
<g filter="url(#blur3)"><rect x="87.9" y="582" width="22.7" height="20.5" rx="5" fill="#fff" opacity="1.0"/><rect x="115.1" y="582" width="22.7" height="18" rx="5" fill="#fff" opacity="1.0"/></g>
<rect x="47.9" y="417.3" width="296.1" height="199.3" filter="url(#grain)" opacity="0.045"/>
</g>
<g fill="#0a0a0a" stroke="#0a0a0a" stroke-width="0.28" filter="url(#tblur)">
<text x="0.9" y="21.6" font-size="28.3" font-weight="bold">A</text>
<text x="369.6" y="21.6" font-size="28" font-weight="bold">B</text>
<text x="1.3" y="362.3" font-size="28" font-weight="bold">C</text>
<text x="369.2" y="362.3" font-size="28" font-weight="bold">D</text>
<text x="5.2" y="49.9" font-size="19.6" font-weight="bold">Time</text>
<text x="3.2" y="74.2" font-size="20.2" font-weight="bold" letter-spacing="0.45">(min)</text>
<text x="7.2" y="387.0" font-size="20.2" font-weight="bold">Time</text>
<text x="6" y="410.6" font-size="20.6" font-weight="bold" letter-spacing="0.35">(min)</text>
<text transform="translate(82.5,71.9) rotate(-90) scale(1,1.04)" font-size="20.3" font-weight="bold">O/N</text>
<text transform="translate(109.7,71.9) rotate(-90) scale(1,1.08)" font-size="20.3" font-weight="bold">22</text>
<text transform="translate(136.7,71.9) rotate(-90) scale(1,1.08)" font-size="20.3" font-weight="bold">57</text>
<text transform="translate(163.1,71.9) rotate(-90) scale(1,1.08)" font-size="20.3" font-weight="bold">207</text>
<text transform="translate(189.8,71.9) rotate(-90) scale(1,1.08)" font-size="20.3" font-weight="bold">266</text>
<text transform="translate(216.8,71.9) rotate(-90) scale(1,1.08)" font-size="20.3" font-weight="bold">321</text>
<text transform="translate(243.2,71.9) rotate(-90) scale(1,1.08)" font-size="20.3" font-weight="bold">388</text>
<text transform="translate(270.2,71.9) rotate(-90) scale(1,1.08)" font-size="20.3" font-weight="bold">462</text>
<text transform="translate(296.4,71.9) rotate(-90) scale(1,1.04)" font-size="20.3" font-weight="bold">O/N</text>
<text transform="translate(324.4,71.9) rotate(-90) scale(1,1.04)" font-size="20.3" font-weight="bold">O/N</text>
<text transform="translate(78.9,415.6) rotate(-90) scale(1,1.04)" font-size="20.3" font-weight="bold">O/N</text>
<text transform="translate(106.3,415.6) rotate(-90) scale(1,1.08)" font-size="20.3" font-weight="bold">18</text>
<text transform="translate(135.8,415.6) rotate(-90) scale(1,1.08)" font-size="20.3" font-weight="bold">44</text>
<text transform="translate(162.8,415.6) rotate(-90) scale(1,1.08)" font-size="20.3" font-weight="bold">237</text>
<text transform="translate(190.3,415.6) rotate(-90) scale(1,1.08)" font-size="20.3" font-weight="bold">300</text>
<text transform="translate(218.3,415.6) rotate(-90) scale(1,1.08)" font-size="20.3" font-weight="bold">344</text>
<text transform="translate(245.1,415.6) rotate(-90) scale(1,1.08)" font-size="20.3" font-weight="bold">404</text>
<text transform="translate(271.7,415.6) rotate(-90) scale(1,1.08)" font-size="20.3" font-weight="bold">462</text>
<text transform="translate(297.8,415.6) rotate(-90) scale(1,1.04)" font-size="20.3" font-weight="bold">O/N</text>
<text transform="translate(326.1,415.6) rotate(-90) scale(1,1.04)" font-size="20.3" font-weight="bold">O/N</text>
<text transform="translate(75.0,302) scale(1,1.08)" font-size="19.3" font-weight="bold" text-anchor="middle">1</text>
<text transform="translate(102.10000000000001,302) scale(1,1.08)" font-size="19.3" font-weight="bold" text-anchor="middle">2</text>
<text transform="translate(129.3,302) scale(1,1.08)" font-size="19.3" font-weight="bold" text-anchor="middle">3</text>
<text transform="translate(155.6,302) scale(1,1.08)" font-size="19.3" font-weight="bold" text-anchor="middle">4</text>
<text transform="translate(182.3,302) scale(1,1.08)" font-size="19.3" font-weight="bold" text-anchor="middle">5</text>
<text transform="translate(209.4,302) scale(1,1.08)" font-size="19.3" font-weight="bold" text-anchor="middle">6</text>
<text transform="translate(236.1,302) scale(1,1.08)" font-size="19.3" font-weight="bold" text-anchor="middle">7</text>
<text transform="translate(262.79999999999995,302) scale(1,1.08)" font-size="19.3" font-weight="bold" text-anchor="middle">8</text>
<text transform="translate(289.09999999999997,302) scale(1,1.08)" font-size="19.3" font-weight="bold" text-anchor="middle">9</text>
<text transform="translate(316.2,302) scale(1,1.08)" font-size="19.3" font-weight="bold" text-anchor="middle">10</text>
<text transform="translate(71.9,635.6) scale(1,1.08)" font-size="19.3" font-weight="bold" text-anchor="middle">1</text>
<text transform="translate(99.8,635.6) scale(1,1.08)" font-size="19.3" font-weight="bold" text-anchor="middle">2</text>
<text transform="translate(127.8,635.6) scale(1,1.08)" font-size="19.3" font-weight="bold" text-anchor="middle">3</text>
<text transform="translate(155.39999999999998,635.6) scale(1,1.08)" font-size="19.3" font-weight="bold" text-anchor="middle">4</text>
<text transform="translate(182.1,635.6) scale(1,1.08)" font-size="19.3" font-weight="bold" text-anchor="middle">5</text>
<text transform="translate(209.2,635.6) scale(1,1.08)" font-size="19.3" font-weight="bold" text-anchor="middle">6</text>
<text transform="translate(235.89999999999998,635.6) scale(1,1.08)" font-size="19.3" font-weight="bold" text-anchor="middle">7</text>
<text transform="translate(263.5,635.6) scale(1,1.08)" font-size="19.3" font-weight="bold" text-anchor="middle">8</text>
<text transform="translate(291.0,635.6) scale(1,1.08)" font-size="19.3" font-weight="bold" text-anchor="middle">9</text>
<text transform="translate(318.2,635.6) scale(1,1.08)" font-size="19.3" font-weight="bold" text-anchor="middle">10</text>
</g>
<g filter="url(#tblur)">
<rect x="420.2" y="69.4" width="248.59999999999997" height="200.1" fill="none" stroke="#3a3a3a" stroke-width="1"/>
<path d="M416.2,78.5H420.2 M416.2,126.3H420.2 M416.2,174.0H420.2 M416.2,221.8H420.2 M416.2,269.5H420.2 M418.2,102.4H420.2 M418.2,150.1H420.2 M418.2,197.9H420.2 M418.2,245.6H420.2 M420.0,269.5V273.0 M488.0,269.5V273.0 M556.0,269.5V273.0 M624.0,269.5V273.0 M454.0,269.5V271.5 M522.0,269.5V271.5 M590.0,269.5V271.5 M658.0,269.5V271.5" stroke="#3a3a3a" stroke-width="1" fill="none"/>
<text transform="translate(414.2,80.1) scale(1,1.07)" font-size="12.3" font-weight="bold" text-anchor="end" letter-spacing="-0.55" fill="#111" stroke="#111" stroke-width="0.25">-0.060</text>
<text transform="translate(414.2,127.9) scale(1,1.07)" font-size="12.3" font-weight="bold" text-anchor="end" letter-spacing="-0.55" fill="#111" stroke="#111" stroke-width="0.25">-0.065</text>
<text transform="translate(414.2,175.6) scale(1,1.07)" font-size="12.3" font-weight="bold" text-anchor="end" letter-spacing="-0.55" fill="#111" stroke="#111" stroke-width="0.25">-0.070</text>
<text transform="translate(414.2,223.3) scale(1,1.07)" font-size="12.3" font-weight="bold" text-anchor="end" letter-spacing="-0.55" fill="#111" stroke="#111" stroke-width="0.25">-0.075</text>
<text transform="translate(414.2,271.1) scale(1,1.07)" font-size="12.3" font-weight="bold" text-anchor="end" letter-spacing="-0.55" fill="#111" stroke="#111" stroke-width="0.25">-0.080</text>
<text transform="translate(420.3,283.6) scale(1,1.07)" font-size="12.3" font-weight="bold" text-anchor="middle" letter-spacing="-0.55" fill="#111" stroke="#111" stroke-width="0.25">0</text>
<text transform="translate(488.3,283.6) scale(1,1.07)" font-size="12.3" font-weight="bold" text-anchor="middle" letter-spacing="-0.55" fill="#111" stroke="#111" stroke-width="0.25">150</text>
<text transform="translate(556.3,283.6) scale(1,1.07)" font-size="12.3" font-weight="bold" text-anchor="middle" letter-spacing="-0.55" fill="#111" stroke="#111" stroke-width="0.25">300</text>
<text transform="translate(624.3,283.6) scale(1,1.07)" font-size="12.3" font-weight="bold" text-anchor="middle" letter-spacing="-0.55" fill="#111" stroke="#111" stroke-width="0.25">450</text>
<text x="530.2" y="304.2" font-size="18.3" font-weight="bold" text-anchor="middle" fill="#111" stroke="#111" stroke-width="0.3">Time (min)</text>
<text transform="translate(376.0,258.3) rotate(-90)" font-size="18.65" font-weight="bold" fill="#111" stroke="#111" stroke-width="0.3">Superhelical density</text>
<g transform="translate(0,0.5)">
<path d="M429.9,177.4L438.8,150.7 M453.0,141.3L492.8,110.3 M502.0,102.6L524.8,81.9 M535.3,77.9L547.5,77.9 M559.5,77.9L575.0,77.9 M587.0,77.9L604.0,77.9" stroke="#8c8c8c" stroke-width="1" fill="none"/>
<path d="M432.1,225.1L436.1,217.4 M455.7,207.7L456.3,207.2 M466.9,199.7L485.5,187.8 M496.4,180.6L515.5,167.7 M525.0,158.9L539.7,140.7 M550.3,135.6L562.8,135.6 M575.8,135.6L585.8,135.6 M598.8,135.6L612.8,135.6" stroke="#8c8c8c" stroke-width="1" fill="none"/>
<path d="M433.6,244.2L442.5,227.1 M452.0,221.3L507.7,221.3 M519.5,217.5L535.2,206.0 M543.5,196.4L562.0,160.3 M568.5,149.0L592.1,112.1 M601.5,103.9L632.1,90.2" stroke="#8c8c8c" stroke-width="1" fill="none"/>
<path d="M435.5,230.8L439.0,230.8 M447.2,226.0L458.0,206.9 M465.3,199.1L485.4,186.1 M492.7,178.3L514.6,140.4 M521.8,132.4L539.3,119.6 M549.3,116.4L563.3,116.4 M574.3,116.4L588.8,116.4 M598.6,113.0L614.2,100.5" stroke="#8c8c8c" stroke-width="1" fill="none"/>
<rect x="428" y="228.3" width="4" height="4" fill="#000"/>
<circle cx="428" cy="183.1" r="3.6" fill="#fff" stroke="#a8a8a8" stroke-width="0.9"/>
<circle cx="440.7" cy="145" r="3.6" fill="#fff" stroke="#a8a8a8" stroke-width="0.9"/>
<circle cx="448.3" cy="145" r="3.6" fill="#fff" stroke="#a8a8a8" stroke-width="0.9"/>
<circle cx="497.5" cy="106.6" r="3.6" fill="#fff" stroke="#a8a8a8" stroke-width="0.9"/>
<circle cx="529.3" cy="77.9" r="3.6" fill="#fff" stroke="#a8a8a8" stroke-width="0.9"/>
<circle cx="553.5" cy="77.9" r="3.6" fill="#fff" stroke="#a8a8a8" stroke-width="0.9"/>
<circle cx="581" cy="77.9" r="3.6" fill="#fff" stroke="#a8a8a8" stroke-width="0.9"/>
<circle cx="610" cy="77.9" r="3.6" fill="#fff" stroke="#a8a8a8" stroke-width="0.9"/>
<path d="M424.4,234.2L433.6,234.2L429.0,225.8Z" fill="#fff" fill-opacity="0.85" stroke="#b4b4b4" stroke-width="0.9"/><circle cx="429" cy="231.3" r="0.6" fill="#bbb"/>
<path d="M434.6,215.1L443.8,215.1L439.2,206.7Z" fill="#fff" fill-opacity="0.85" stroke="#b4b4b4" stroke-width="0.9"/><circle cx="439.2" cy="212.2" r="0.6" fill="#bbb"/>
<path d="M446.0,215.1L455.2,215.1L450.6,206.7Z" fill="#fff" fill-opacity="0.85" stroke="#b4b4b4" stroke-width="0.9"/><circle cx="450.6" cy="212.2" r="0.6" fill="#bbb"/>
<path d="M516.3,167.4L525.5,167.4L520.9,159.0Z" fill="#fff" fill-opacity="0.85" stroke="#b4b4b4" stroke-width="0.9"/><circle cx="520.9" cy="164.5" r="0.6" fill="#bbb"/>
<path d="M539.2,139.0L548.4,139.0L543.8,130.6Z" fill="#fff" fill-opacity="0.85" stroke="#b4b4b4" stroke-width="0.9"/><circle cx="543.8" cy="136.1" r="0.6" fill="#bbb"/>
<path d="M564.7,139.0L573.9,139.0L569.3,130.6Z" fill="#fff" fill-opacity="0.85" stroke="#b4b4b4" stroke-width="0.9"/><circle cx="569.3" cy="136.1" r="0.6" fill="#bbb"/>
<path d="M587.7,139.0L596.9,139.0L592.3,130.6Z" fill="#fff" fill-opacity="0.85" stroke="#b4b4b4" stroke-width="0.9"/><circle cx="592.3" cy="136.1" r="0.6" fill="#bbb"/>
<path d="M614.7,139.0L623.9,139.0L619.3,130.6Z" fill="#fff" fill-opacity="0.85" stroke="#b4b4b4" stroke-width="0.9"/><circle cx="619.3" cy="136.1" r="0.6" fill="#bbb"/>
<path d="M426.0,246.6L435.2,246.6L430.6,255.0Z" fill="#fff" stroke="#b4b4b4" stroke-width="0.9"/>
<path d="M440.9,217.9L450.1,217.9L445.5,226.3Z" fill="#fff" stroke="#b4b4b4" stroke-width="0.9"/>
<path d="M509.6,217.9L518.8,217.9L514.2,226.3Z" fill="#fff" stroke="#b4b4b4" stroke-width="0.9"/>
<path d="M535.9,198.8L545.1,198.8L540.5,207.2Z" fill="#fff" stroke="#b4b4b4" stroke-width="0.9"/>
<path d="M560.4,151.1L569.6,151.1L565.0,159.5Z" fill="#fff" stroke="#b4b4b4" stroke-width="0.9"/>
<path d="M591.0,103.2L600.2,103.2L595.6,111.6Z" fill="#fff" stroke="#b4b4b4" stroke-width="0.9"/>
<path d="M633.4,84.1L642.6,84.1L638.0,92.5Z" fill="#fff" stroke="#b4b4b4" stroke-width="0.9"/>
<rect x="441.5" y="227.8" width="6" height="6" fill="#000"/>
<rect x="457.7" y="199.1" width="6" height="6" fill="#000"/>
<rect x="487.0" y="180.1" width="6" height="6" fill="#000"/>
<rect x="514.3" y="132.6" width="6" height="6" fill="#000"/>
<rect x="540.8" y="113.4" width="6" height="6" fill="#000"/>
<rect x="565.8" y="113.4" width="6" height="6" fill="#000"/>
<rect x="591.3" y="113.4" width="6" height="6" fill="#000"/>
<rect x="615.5" y="94.1" width="6" height="6" fill="#000"/>
<rect x="428.2" y="228.5" width="3.6" height="3.6" fill="#000"/>
</g>
<rect x="565.2" y="199.9" width="92.3" height="59.8" fill="#fff" stroke="#c4c4c4" stroke-width="0.8"/>
<path d="M568.8,208.2H575.2 M583.8,208.2H590.2" stroke="#c0c0c0" stroke-width="0.9"/>
<path d="M568.8,223.6H575.2 M583.8,223.6H590.2" stroke="#c0c0c0" stroke-width="0.9"/>
<path d="M568.8,238.4H575.2 M583.8,238.4H590.2" stroke="#c0c0c0" stroke-width="0.9"/>
<path d="M568.8,253.6H575.2 M583.8,253.6H590.2" stroke="#c0c0c0" stroke-width="0.9"/>
<rect x="578" y="206.7" width="3" height="3" fill="#000"/>
<circle cx="579.5" cy="223.6" r="1.6" fill="#fff" stroke="#b8b8b8" stroke-width="0.7"/>
<path d="M577,240.20000000000002L582,240.20000000000002L579.5,235.8Z" fill="#fff" stroke="#b8b8b8" stroke-width="0.7"/>
<path d="M577,251.79999999999998L582,251.79999999999998L579.5,256.2Z" fill="#fff" stroke="#b8b8b8" stroke-width="0.7"/>
<text x="593.6" y="211.7" font-size="12.3" letter-spacing="-0.25" fill="#111">pBR322</text>
<text x="593.6" y="226.2" font-size="12.3" letter-spacing="-0.25" fill="#111">pUC18</text>
<text x="593.6" y="241.5" font-size="12.3" letter-spacing="-0.25" fill="#111">pACYC177</text>
<text x="593.6" y="256.3" font-size="12.3" letter-spacing="-0.25" fill="#111">pACYC184</text>
</g>
<g filter="url(#tblur)">
<rect x="420.6" y="417.0" width="248.39999999999998" height="200.20000000000005" fill="none" stroke="#3a3a3a" stroke-width="1"/>
<path d="M417.40000000000003,417.2H420.6 M417.40000000000003,459.3H420.6 M417.40000000000003,501.4H420.6 M417.40000000000003,543.5H420.6 M417.40000000000003,585.6H420.6 M418.6,438.2H420.6 M418.6,480.3H420.6 M418.6,522.5H420.6 M418.6,564.5H420.6 M418.6,606.6H420.6 M420.6,617.2V620.7 M495.2,617.2V620.7 M569.9,617.2V620.7 M644.5,617.2V620.7 M457.9,617.2V619.2 M532.5,617.2V619.2 M607.2,617.2V619.2" stroke="#3a3a3a" stroke-width="1" fill="none"/>
<text transform="translate(415.0,419.4) scale(1,1.07)" font-size="12.2" font-weight="bold" text-anchor="end" letter-spacing="-0.6" fill="#111" stroke="#111" stroke-width="0.25">100</text>
<text transform="translate(415.0,461.5) scale(1,1.07)" font-size="12.2" font-weight="bold" text-anchor="end" letter-spacing="-0.6" fill="#111" stroke="#111" stroke-width="0.25">80</text>
<text transform="translate(415.0,503.6) scale(1,1.07)" font-size="12.2" font-weight="bold" text-anchor="end" letter-spacing="-0.6" fill="#111" stroke="#111" stroke-width="0.25">60</text>
<text transform="translate(415.0,545.7) scale(1,1.07)" font-size="12.2" font-weight="bold" text-anchor="end" letter-spacing="-0.6" fill="#111" stroke="#111" stroke-width="0.25">40</text>
<text transform="translate(415.0,587.8) scale(1,1.07)" font-size="12.2" font-weight="bold" text-anchor="end" letter-spacing="-0.6" fill="#111" stroke="#111" stroke-width="0.25">20</text>
<text transform="translate(420.9,631.2) scale(1,1.07)" font-size="12.2" font-weight="bold" text-anchor="middle" letter-spacing="-0.6" fill="#111" stroke="#111" stroke-width="0.25">0</text>
<text transform="translate(495.5,631.2) scale(1,1.07)" font-size="12.2" font-weight="bold" text-anchor="middle" letter-spacing="-0.6" fill="#111" stroke="#111" stroke-width="0.25">150</text>
<text transform="translate(570.1,631.2) scale(1,1.07)" font-size="12.2" font-weight="bold" text-anchor="middle" letter-spacing="-0.6" fill="#111" stroke="#111" stroke-width="0.25">300</text>
<text transform="translate(644.8,631.2) scale(1,1.07)" font-size="12.2" font-weight="bold" text-anchor="middle" letter-spacing="-0.6" fill="#111" stroke="#111" stroke-width="0.25">450</text>
<text x="546.5" y="648.6" font-size="18.5" font-weight="bold" text-anchor="middle" fill="#111" stroke="#111" stroke-width="0.3">Time (min)</text>
<text transform="translate(374.4,561.8) rotate(-90)" font-size="18.8" font-weight="bold" fill="#111" stroke="#111" stroke-width="0.3">Percentage</text>
<text transform="translate(396.2,562.4) rotate(-90)" font-size="18.6" font-weight="bold" fill="#111" stroke="#111" stroke-width="0.3">(--) scDNA</text>
<path d="M431.0,439.6V460.8M429.0,439.6H433.0M429.0,460.8H433.0 M447.5,467.7V483.3M445.5,467.7H449.5M445.5,483.3H449.5 M465.3,484.0V501.0M463.3,484.0H467.3M463.3,501.0H467.3 M498.7,516.1V528.1M496.7,516.1H500.7M496.7,528.1H500.7 M528.0,530.1V555.5M526.0,530.1H530.0M526.0,555.5H530.0 M556.8,551.2V572.6M554.8,551.2H558.8M554.8,572.6H558.8 M584.1,568.6V576.6M582.1,568.6H586.1M582.1,576.6H586.1 M608.0,582.8V595.6M606.0,582.8H610.0M606.0,595.6H610.0 M638.9,600.2V607.8M636.9,600.2H640.9M636.9,607.8H640.9" stroke="#bdbdbd" stroke-width="0.9" fill="none"/>
<path d="M429.6,424.8V450.2M427.6,424.8H431.6M427.6,450.2H431.6 M442.5,440.0V468.0M440.5,440.0H444.5M440.5,468.0H444.5 M538.2,513.0V530.4M536.2,513.0H540.2M536.2,530.4H540.2 M569.3,522.2V542.6M567.3,522.2H571.3M567.3,542.6H571.3 M591.2,543.2V560.2M589.2,543.2H593.2M589.2,560.2H593.2 M621.0,557.7V569.7M619.0,557.7H623.0M619.0,569.7H623.0 M649.8,565.7V587.3M647.8,565.7H651.8M647.8,587.3H651.8" stroke="#bdbdbd" stroke-width="0.9" fill="none"/>
<path d="M434.0,454.8L444.5,470.9 M451.5,479.3L461.3,488.7 M469.4,496.1L494.6,518.5 M503.2,525.3L523.5,539.6 M532.6,545.8L552.2,558.9 M561.9,563.9L579.0,570.6 M588.6,575.7L603.5,586.1 M613.0,591.6L633.9,601.6" stroke="#1e1e1e" stroke-width="1.15" fill="none"/>
<path d="M433.3,442.2L438.8,449.3 M447.4,457.5L533.3,518.2 M543.9,523.7L563.6,530.4 M573.8,536.4L586.7,547.7 M596.8,553.9L615.4,561.5 M626.5,566.1L644.3,574.1" stroke="#1e1e1e" stroke-width="1.15" fill="none"/>
<rect x="428.0" y="447.2" width="6" height="6" fill="#000"/>
<rect x="444.5" y="472.5" width="6" height="6" fill="#000"/>
<rect x="462.3" y="489.5" width="6" height="6" fill="#000"/>
<rect x="495.7" y="519.1" width="6" height="6" fill="#000"/>
<rect x="525.0" y="539.8" width="6" height="6" fill="#000"/>
<rect x="553.8" y="558.9" width="6" height="6" fill="#000"/>
<rect x="581.1" y="569.6" width="6" height="6" fill="#000"/>
<rect x="605.0" y="586.2" width="6" height="6" fill="#000"/>
<rect x="635.9" y="601.0" width="6" height="6" fill="#000"/>
<circle cx="429.6" cy="437.5" r="3.5" fill="#fff" stroke="#b0b0b0" stroke-width="0.9"/>
<circle cx="442.5" cy="454" r="3.5" fill="#fff" stroke="#b0b0b0" stroke-width="0.9"/>
<circle cx="538.2" cy="521.7" r="3.5" fill="#fff" stroke="#b0b0b0" stroke-width="0.9"/>
<circle cx="569.3" cy="532.4" r="3.5" fill="#fff" stroke="#b0b0b0" stroke-width="0.9"/>
<circle cx="591.2" cy="551.7" r="3.5" fill="#fff" stroke="#b0b0b0" stroke-width="0.9"/>
<circle cx="621" cy="563.7" r="3.5" fill="#fff" stroke="#b0b0b0" stroke-width="0.9"/>
<circle cx="649.8" cy="576.5" r="3.5" fill="#fff" stroke="#b0b0b0" stroke-width="0.9"/>
<rect x="559.9" y="426.2" width="98.6" height="29.8" fill="#fff" stroke="#c4c4c4" stroke-width="0.8"/>
<path d="M563.7,433.9H572.6 M582,433.9H591" stroke="#1e1e1e" stroke-width="1"/>
<path d="M563.7,448.9H572.6 M582,448.9H591" stroke="#1e1e1e" stroke-width="1"/>
<rect x="575.6" y="432.29999999999995" width="3.2" height="3.2" fill="#000"/>
<circle cx="577.2" cy="448.9" r="1.7" fill="#fff" stroke="#b8b8b8" stroke-width="0.7"/>
<text x="595.3" y="438.2" font-size="12.3" letter-spacing="-0.25" fill="#111">pBR322</text>
<text x="595.3" y="453" font-size="12.3" letter-spacing="-0.25" fill="#111">pACYC184</text>
</g>
</svg></body></html>
